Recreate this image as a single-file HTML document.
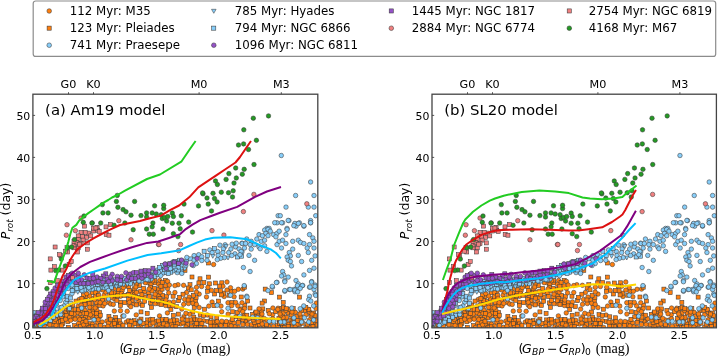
<!DOCTYPE html>
<html><head><meta charset="utf-8"><style>html,body{margin:0;padding:0;background:#fff;width:718px;height:357px;overflow:hidden}svg{display:block}</style></head>
<body>
<svg width="718" height="357" viewBox="0 0 718 357">
<rect width="718" height="357" fill="#fff"/>
<defs><clipPath id="c0"><rect x="32.9" y="94.2" width="284.9" height="233.6"/></clipPath><clipPath id="c1"><rect x="432.0" y="94.2" width="284.4" height="233.6"/></clipPath></defs>
<rect x="33.2" y="1" width="682.5" height="55.4" rx="2.5" fill="#fff" stroke="#8c8c8c" stroke-width="1.2"/>
<circle cx="49.2" cy="11.0" r="2.3" fill="#ff7f0e" stroke="#3a3a3a" stroke-width="0.55"/>
<text x="69.8" y="15.3" font-family="'DejaVu Sans', 'Liberation Sans', sans-serif" font-size="11.8" fill="#000">112 Myr: M35</text>
<rect x="47.1" y="26.1" width="4.1" height="4.1" fill="#ff7f0e" stroke="#3a3a3a" stroke-width="0.55"/>
<text x="69.8" y="32.4" font-family="'DejaVu Sans', 'Liberation Sans', sans-serif" font-size="11.8" fill="#000">123 Myr: Pleiades</text>
<circle cx="49.2" cy="45.2" r="2.3" fill="#87cefa" stroke="#3a3a3a" stroke-width="0.55"/>
<text x="69.8" y="49.0" font-family="'DejaVu Sans', 'Liberation Sans', sans-serif" font-size="11.8" fill="#000">741 Myr: Praesepe</text>
<path d="M211.5,9.3L216.1,9.3L213.8,13.3Z" fill="#87cefa" stroke="#3a3a3a" stroke-width="0.55"/>
<text x="234.7" y="15.3" font-family="'DejaVu Sans', 'Liberation Sans', sans-serif" font-size="11.8" fill="#000">785 Myr: Hyades</text>
<rect x="211.7" y="26.1" width="4.1" height="4.1" fill="#87cefa" stroke="#3a3a3a" stroke-width="0.55"/>
<text x="234.7" y="32.4" font-family="'DejaVu Sans', 'Liberation Sans', sans-serif" font-size="11.8" fill="#000">794 Myr: NGC 6866</text>
<circle cx="213.8" cy="45.2" r="2.3" fill="#9552c8" stroke="#3a3a3a" stroke-width="0.55"/>
<text x="234.7" y="49.0" font-family="'DejaVu Sans', 'Liberation Sans', sans-serif" font-size="11.8" fill="#000">1096 Myr: NGC 6811</text>
<rect x="389.2" y="8.9" width="4.1" height="4.1" fill="#9552c8" stroke="#3a3a3a" stroke-width="0.55"/>
<text x="411.7" y="15.3" font-family="'DejaVu Sans', 'Liberation Sans', sans-serif" font-size="11.8" fill="#000">1445 Myr: NGC 1817</text>
<circle cx="391.3" cy="28.2" r="2.3" fill="#f08080" stroke="#3a3a3a" stroke-width="0.55"/>
<text x="411.7" y="32.4" font-family="'DejaVu Sans', 'Liberation Sans', sans-serif" font-size="11.8" fill="#000">2884 Myr: NGC 6774</text>
<rect x="567.2" y="8.9" width="4.1" height="4.1" fill="#f08080" stroke="#3a3a3a" stroke-width="0.55"/>
<text x="588.7" y="15.3" font-family="'DejaVu Sans', 'Liberation Sans', sans-serif" font-size="11.8" fill="#000">2754 Myr: NGC 6819</text>
<circle cx="569.3" cy="28.2" r="2.3" fill="#249a24" stroke="#3a3a3a" stroke-width="0.55"/>
<text x="588.7" y="32.4" font-family="'DejaVu Sans', 'Liberation Sans', sans-serif" font-size="11.8" fill="#000">4168 Myr: M67</text>
<g clip-path="url(#c0)"><g transform="matrix(1.00000,0,0,1,0.000,0)">
<g id="scat"><circle cx="59.4" cy="315.2" r="2.25" fill="#ff7f0e" stroke="#3a3a3a" stroke-width="0.55"/><circle cx="79.1" cy="299.5" r="2.25" fill="#ff7f0e" stroke="#3a3a3a" stroke-width="0.55"/><circle cx="72.2" cy="310.0" r="2.25" fill="#ff7f0e" stroke="#3a3a3a" stroke-width="0.55"/><circle cx="70.4" cy="306.7" r="2.25" fill="#ff7f0e" stroke="#3a3a3a" stroke-width="0.55"/><rect x="64.0" y="308.4" width="4.0" height="4.0" fill="#ff7f0e" stroke="#3a3a3a" stroke-width="0.55"/><circle cx="65.5" cy="317.7" r="2.25" fill="#ff7f0e" stroke="#3a3a3a" stroke-width="0.55"/><rect x="51.4" y="316.9" width="4.0" height="4.0" fill="#ff7f0e" stroke="#3a3a3a" stroke-width="0.55"/><rect x="94.8" y="303.5" width="4.0" height="4.0" fill="#ff7f0e" stroke="#3a3a3a" stroke-width="0.55"/><rect x="89.5" y="296.7" width="4.0" height="4.0" fill="#ff7f0e" stroke="#3a3a3a" stroke-width="0.55"/><rect x="46.6" y="317.8" width="4.0" height="4.0" fill="#ff7f0e" stroke="#3a3a3a" stroke-width="0.55"/><circle cx="58.5" cy="318.7" r="2.25" fill="#ff7f0e" stroke="#3a3a3a" stroke-width="0.55"/><circle cx="78.3" cy="306.2" r="2.25" fill="#ff7f0e" stroke="#3a3a3a" stroke-width="0.55"/><rect x="70.8" y="303.0" width="4.0" height="4.0" fill="#ff7f0e" stroke="#3a3a3a" stroke-width="0.55"/><rect x="63.6" y="310.9" width="4.0" height="4.0" fill="#ff7f0e" stroke="#3a3a3a" stroke-width="0.55"/><rect x="73.1" y="307.6" width="4.0" height="4.0" fill="#ff7f0e" stroke="#3a3a3a" stroke-width="0.55"/><rect x="79.9" y="299.5" width="4.0" height="4.0" fill="#ff7f0e" stroke="#3a3a3a" stroke-width="0.55"/><rect x="90.5" y="308.7" width="4.0" height="4.0" fill="#ff7f0e" stroke="#3a3a3a" stroke-width="0.55"/><rect x="78.1" y="311.6" width="4.0" height="4.0" fill="#ff7f0e" stroke="#3a3a3a" stroke-width="0.55"/><circle cx="74.4" cy="316.9" r="2.25" fill="#ff7f0e" stroke="#3a3a3a" stroke-width="0.55"/><rect x="94.7" y="300.5" width="4.0" height="4.0" fill="#ff7f0e" stroke="#3a3a3a" stroke-width="0.55"/><rect x="80.1" y="308.6" width="4.0" height="4.0" fill="#ff7f0e" stroke="#3a3a3a" stroke-width="0.55"/><rect x="97.6" y="310.5" width="4.0" height="4.0" fill="#ff7f0e" stroke="#3a3a3a" stroke-width="0.55"/><circle cx="86.1" cy="296.9" r="2.25" fill="#ff7f0e" stroke="#3a3a3a" stroke-width="0.55"/><rect x="90.3" y="290.6" width="4.0" height="4.0" fill="#ff7f0e" stroke="#3a3a3a" stroke-width="0.55"/><rect x="91.0" y="311.1" width="4.0" height="4.0" fill="#ff7f0e" stroke="#3a3a3a" stroke-width="0.55"/><circle cx="93.1" cy="317.1" r="2.25" fill="#ff7f0e" stroke="#3a3a3a" stroke-width="0.55"/><circle cx="69.1" cy="314.3" r="2.25" fill="#ff7f0e" stroke="#3a3a3a" stroke-width="0.55"/><circle cx="55.8" cy="316.4" r="2.25" fill="#ff7f0e" stroke="#3a3a3a" stroke-width="0.55"/><circle cx="81.4" cy="307.8" r="2.25" fill="#ff7f0e" stroke="#3a3a3a" stroke-width="0.55"/><circle cx="77.1" cy="312.7" r="2.25" fill="#ff7f0e" stroke="#3a3a3a" stroke-width="0.55"/><circle cx="63.5" cy="314.8" r="2.25" fill="#ff7f0e" stroke="#3a3a3a" stroke-width="0.55"/><circle cx="92.5" cy="307.5" r="2.25" fill="#ff7f0e" stroke="#3a3a3a" stroke-width="0.55"/><circle cx="89.7" cy="296.0" r="2.25" fill="#ff7f0e" stroke="#3a3a3a" stroke-width="0.55"/><rect x="69.7" y="316.7" width="4.0" height="4.0" fill="#ff7f0e" stroke="#3a3a3a" stroke-width="0.55"/><rect x="69.9" y="313.9" width="4.0" height="4.0" fill="#ff7f0e" stroke="#3a3a3a" stroke-width="0.55"/><rect x="86.7" y="316.0" width="4.0" height="4.0" fill="#ff7f0e" stroke="#3a3a3a" stroke-width="0.55"/><circle cx="89.1" cy="311.5" r="2.25" fill="#ff7f0e" stroke="#3a3a3a" stroke-width="0.55"/><circle cx="61.3" cy="313.5" r="2.25" fill="#ff7f0e" stroke="#3a3a3a" stroke-width="0.55"/><circle cx="81.6" cy="317.7" r="2.25" fill="#ff7f0e" stroke="#3a3a3a" stroke-width="0.55"/><rect x="97.3" y="314.6" width="4.0" height="4.0" fill="#ff7f0e" stroke="#3a3a3a" stroke-width="0.55"/><rect x="66.7" y="307.7" width="4.0" height="4.0" fill="#ff7f0e" stroke="#3a3a3a" stroke-width="0.55"/><rect x="85.3" y="299.4" width="4.0" height="4.0" fill="#ff7f0e" stroke="#3a3a3a" stroke-width="0.55"/><circle cx="96.8" cy="309.9" r="2.25" fill="#ff7f0e" stroke="#3a3a3a" stroke-width="0.55"/><circle cx="94.6" cy="299.6" r="2.25" fill="#ff7f0e" stroke="#3a3a3a" stroke-width="0.55"/><rect x="83.6" y="314.3" width="4.0" height="4.0" fill="#ff7f0e" stroke="#3a3a3a" stroke-width="0.55"/><rect x="64.6" y="313.4" width="4.0" height="4.0" fill="#ff7f0e" stroke="#3a3a3a" stroke-width="0.55"/><rect x="94.6" y="311.4" width="4.0" height="4.0" fill="#ff7f0e" stroke="#3a3a3a" stroke-width="0.55"/><rect x="81.3" y="293.6" width="4.0" height="4.0" fill="#ff7f0e" stroke="#3a3a3a" stroke-width="0.55"/><circle cx="98.3" cy="290.9" r="2.25" fill="#ff7f0e" stroke="#3a3a3a" stroke-width="0.55"/><circle cx="74.2" cy="314.1" r="2.25" fill="#ff7f0e" stroke="#3a3a3a" stroke-width="0.55"/><rect x="89.7" y="301.2" width="4.0" height="4.0" fill="#ff7f0e" stroke="#3a3a3a" stroke-width="0.55"/><rect x="93.6" y="294.8" width="4.0" height="4.0" fill="#ff7f0e" stroke="#3a3a3a" stroke-width="0.55"/><rect x="82.0" y="305.9" width="4.0" height="4.0" fill="#ff7f0e" stroke="#3a3a3a" stroke-width="0.55"/><rect x="87.1" y="301.4" width="4.0" height="4.0" fill="#ff7f0e" stroke="#3a3a3a" stroke-width="0.55"/><circle cx="69.7" cy="317.1" r="2.25" fill="#ff7f0e" stroke="#3a3a3a" stroke-width="0.55"/><rect x="82.4" y="298.7" width="4.0" height="4.0" fill="#ff7f0e" stroke="#3a3a3a" stroke-width="0.55"/><circle cx="90.5" cy="314.8" r="2.25" fill="#ff7f0e" stroke="#3a3a3a" stroke-width="0.55"/><circle cx="85.0" cy="310.2" r="2.25" fill="#ff7f0e" stroke="#3a3a3a" stroke-width="0.55"/><circle cx="89.6" cy="307.3" r="2.25" fill="#ff7f0e" stroke="#3a3a3a" stroke-width="0.55"/><rect x="97.9" y="303.3" width="4.0" height="4.0" fill="#ff7f0e" stroke="#3a3a3a" stroke-width="0.55"/><circle cx="95.6" cy="292.7" r="2.25" fill="#ff7f0e" stroke="#3a3a3a" stroke-width="0.55"/><rect x="96.6" y="293.5" width="4.0" height="4.0" fill="#ff7f0e" stroke="#3a3a3a" stroke-width="0.55"/><rect x="83.0" y="302.3" width="4.0" height="4.0" fill="#ff7f0e" stroke="#3a3a3a" stroke-width="0.55"/><circle cx="95.2" cy="307.9" r="2.25" fill="#ff7f0e" stroke="#3a3a3a" stroke-width="0.55"/><rect x="79.9" y="296.5" width="4.0" height="4.0" fill="#ff7f0e" stroke="#3a3a3a" stroke-width="0.55"/><rect x="69.4" y="311.3" width="4.0" height="4.0" fill="#ff7f0e" stroke="#3a3a3a" stroke-width="0.55"/><rect x="74.0" y="299.1" width="4.0" height="4.0" fill="#ff7f0e" stroke="#3a3a3a" stroke-width="0.55"/><rect x="59.4" y="316.3" width="4.0" height="4.0" fill="#ff7f0e" stroke="#3a3a3a" stroke-width="0.55"/><circle cx="78.0" cy="317.7" r="2.25" fill="#ff7f0e" stroke="#3a3a3a" stroke-width="0.55"/><circle cx="96.6" cy="317.4" r="2.25" fill="#ff7f0e" stroke="#3a3a3a" stroke-width="0.55"/><circle cx="84.0" cy="313.3" r="2.25" fill="#ff7f0e" stroke="#3a3a3a" stroke-width="0.55"/><circle cx="55.9" cy="319.6" r="2.25" fill="#ff7f0e" stroke="#3a3a3a" stroke-width="0.55"/><rect x="76.7" y="307.8" width="4.0" height="4.0" fill="#ff7f0e" stroke="#3a3a3a" stroke-width="0.55"/><circle cx="86.7" cy="293.6" r="2.25" fill="#ff7f0e" stroke="#3a3a3a" stroke-width="0.55"/><rect x="96.6" y="285.7" width="4.0" height="4.0" fill="#ff7f0e" stroke="#3a3a3a" stroke-width="0.55"/><circle cx="81.1" cy="305.2" r="2.25" fill="#ff7f0e" stroke="#3a3a3a" stroke-width="0.55"/><circle cx="99.1" cy="298.3" r="2.25" fill="#ff7f0e" stroke="#3a3a3a" stroke-width="0.55"/><rect x="84.6" y="311.7" width="4.0" height="4.0" fill="#ff7f0e" stroke="#3a3a3a" stroke-width="0.55"/><rect x="142.4" y="289.9" width="4.0" height="4.0" fill="#ff7f0e" stroke="#3a3a3a" stroke-width="0.55"/><rect x="137.3" y="283.7" width="4.0" height="4.0" fill="#ff7f0e" stroke="#3a3a3a" stroke-width="0.55"/><circle cx="167.5" cy="288.5" r="2.25" fill="#ff7f0e" stroke="#3a3a3a" stroke-width="0.55"/><rect x="142.7" y="299.2" width="4.0" height="4.0" fill="#ff7f0e" stroke="#3a3a3a" stroke-width="0.55"/><rect x="155.1" y="289.6" width="4.0" height="4.0" fill="#ff7f0e" stroke="#3a3a3a" stroke-width="0.55"/><circle cx="120.6" cy="296.2" r="2.25" fill="#ff7f0e" stroke="#3a3a3a" stroke-width="0.55"/><circle cx="108.8" cy="302.6" r="2.25" fill="#ff7f0e" stroke="#3a3a3a" stroke-width="0.55"/><rect x="122.8" y="300.7" width="4.0" height="4.0" fill="#ff7f0e" stroke="#3a3a3a" stroke-width="0.55"/><rect x="116.7" y="290.6" width="4.0" height="4.0" fill="#ff7f0e" stroke="#3a3a3a" stroke-width="0.55"/><circle cx="113.0" cy="285.2" r="2.25" fill="#ff7f0e" stroke="#3a3a3a" stroke-width="0.55"/><rect x="148.5" y="284.7" width="4.0" height="4.0" fill="#ff7f0e" stroke="#3a3a3a" stroke-width="0.55"/><rect x="131.5" y="289.8" width="4.0" height="4.0" fill="#ff7f0e" stroke="#3a3a3a" stroke-width="0.55"/><rect x="142.6" y="295.0" width="4.0" height="4.0" fill="#ff7f0e" stroke="#3a3a3a" stroke-width="0.55"/><circle cx="159.8" cy="280.5" r="2.25" fill="#ff7f0e" stroke="#3a3a3a" stroke-width="0.55"/><circle cx="158.0" cy="303.5" r="2.25" fill="#ff7f0e" stroke="#3a3a3a" stroke-width="0.55"/><rect x="152.9" y="280.8" width="4.0" height="4.0" fill="#ff7f0e" stroke="#3a3a3a" stroke-width="0.55"/><circle cx="158.2" cy="296.1" r="2.25" fill="#ff7f0e" stroke="#3a3a3a" stroke-width="0.55"/><rect x="99.0" y="284.1" width="4.0" height="4.0" fill="#ff7f0e" stroke="#3a3a3a" stroke-width="0.55"/><rect x="164.6" y="294.7" width="4.0" height="4.0" fill="#ff7f0e" stroke="#3a3a3a" stroke-width="0.55"/><circle cx="117.5" cy="286.9" r="2.25" fill="#ff7f0e" stroke="#3a3a3a" stroke-width="0.55"/><rect x="108.0" y="288.2" width="4.0" height="4.0" fill="#ff7f0e" stroke="#3a3a3a" stroke-width="0.55"/><rect x="152.3" y="286.4" width="4.0" height="4.0" fill="#ff7f0e" stroke="#3a3a3a" stroke-width="0.55"/><circle cx="110.7" cy="304.0" r="2.25" fill="#ff7f0e" stroke="#3a3a3a" stroke-width="0.55"/><rect x="160.4" y="293.4" width="4.0" height="4.0" fill="#ff7f0e" stroke="#3a3a3a" stroke-width="0.55"/><rect x="152.7" y="295.0" width="4.0" height="4.0" fill="#ff7f0e" stroke="#3a3a3a" stroke-width="0.55"/><rect x="160.5" y="298.3" width="4.0" height="4.0" fill="#ff7f0e" stroke="#3a3a3a" stroke-width="0.55"/><circle cx="158.7" cy="284.3" r="2.25" fill="#ff7f0e" stroke="#3a3a3a" stroke-width="0.55"/><circle cx="148.5" cy="293.5" r="2.25" fill="#ff7f0e" stroke="#3a3a3a" stroke-width="0.55"/><circle cx="151.9" cy="290.9" r="2.25" fill="#ff7f0e" stroke="#3a3a3a" stroke-width="0.55"/><rect x="116.5" y="287.6" width="4.0" height="4.0" fill="#ff7f0e" stroke="#3a3a3a" stroke-width="0.55"/><rect x="107.7" y="293.5" width="4.0" height="4.0" fill="#ff7f0e" stroke="#3a3a3a" stroke-width="0.55"/><circle cx="104.1" cy="295.2" r="2.25" fill="#ff7f0e" stroke="#3a3a3a" stroke-width="0.55"/><rect x="132.8" y="292.3" width="4.0" height="4.0" fill="#ff7f0e" stroke="#3a3a3a" stroke-width="0.55"/><rect x="137.4" y="295.2" width="4.0" height="4.0" fill="#ff7f0e" stroke="#3a3a3a" stroke-width="0.55"/><rect x="156.8" y="287.1" width="4.0" height="4.0" fill="#ff7f0e" stroke="#3a3a3a" stroke-width="0.55"/><circle cx="129.3" cy="305.1" r="2.25" fill="#ff7f0e" stroke="#3a3a3a" stroke-width="0.55"/><circle cx="105.3" cy="298.6" r="2.25" fill="#ff7f0e" stroke="#3a3a3a" stroke-width="0.55"/><rect x="142.5" y="278.3" width="4.0" height="4.0" fill="#ff7f0e" stroke="#3a3a3a" stroke-width="0.55"/><circle cx="168.7" cy="292.8" r="2.25" fill="#ff7f0e" stroke="#3a3a3a" stroke-width="0.55"/><circle cx="133.9" cy="303.4" r="2.25" fill="#ff7f0e" stroke="#3a3a3a" stroke-width="0.55"/><rect x="100.3" y="298.3" width="4.0" height="4.0" fill="#ff7f0e" stroke="#3a3a3a" stroke-width="0.55"/><rect x="141.7" y="286.5" width="4.0" height="4.0" fill="#ff7f0e" stroke="#3a3a3a" stroke-width="0.55"/><circle cx="130.5" cy="292.6" r="2.25" fill="#ff7f0e" stroke="#3a3a3a" stroke-width="0.55"/><circle cx="138.8" cy="301.5" r="2.25" fill="#ff7f0e" stroke="#3a3a3a" stroke-width="0.55"/><rect x="118.5" y="300.2" width="4.0" height="4.0" fill="#ff7f0e" stroke="#3a3a3a" stroke-width="0.55"/><rect x="126.2" y="292.7" width="4.0" height="4.0" fill="#ff7f0e" stroke="#3a3a3a" stroke-width="0.55"/><circle cx="122.2" cy="290.7" r="2.25" fill="#ff7f0e" stroke="#3a3a3a" stroke-width="0.55"/><rect x="152.9" y="278.1" width="4.0" height="4.0" fill="#ff7f0e" stroke="#3a3a3a" stroke-width="0.55"/><rect x="148.6" y="300.9" width="4.0" height="4.0" fill="#ff7f0e" stroke="#3a3a3a" stroke-width="0.55"/><circle cx="138.2" cy="281.2" r="2.25" fill="#ff7f0e" stroke="#3a3a3a" stroke-width="0.55"/><circle cx="121.0" cy="284.4" r="2.25" fill="#ff7f0e" stroke="#3a3a3a" stroke-width="0.55"/><circle cx="113.3" cy="304.4" r="2.25" fill="#ff7f0e" stroke="#3a3a3a" stroke-width="0.55"/><circle cx="155.2" cy="303.6" r="2.25" fill="#ff7f0e" stroke="#3a3a3a" stroke-width="0.55"/><rect x="112.9" y="297.0" width="4.0" height="4.0" fill="#ff7f0e" stroke="#3a3a3a" stroke-width="0.55"/><rect x="130.0" y="298.3" width="4.0" height="4.0" fill="#ff7f0e" stroke="#3a3a3a" stroke-width="0.55"/><circle cx="107.1" cy="289.3" r="2.25" fill="#ff7f0e" stroke="#3a3a3a" stroke-width="0.55"/><circle cx="155.1" cy="294.2" r="2.25" fill="#ff7f0e" stroke="#3a3a3a" stroke-width="0.55"/><rect x="127.5" y="288.3" width="4.0" height="4.0" fill="#ff7f0e" stroke="#3a3a3a" stroke-width="0.55"/><rect x="128.1" y="295.7" width="4.0" height="4.0" fill="#ff7f0e" stroke="#3a3a3a" stroke-width="0.55"/><rect x="163.3" y="278.4" width="4.0" height="4.0" fill="#ff7f0e" stroke="#3a3a3a" stroke-width="0.55"/><circle cx="140.3" cy="303.9" r="2.25" fill="#ff7f0e" stroke="#3a3a3a" stroke-width="0.55"/><rect x="129.2" y="280.7" width="4.0" height="4.0" fill="#ff7f0e" stroke="#3a3a3a" stroke-width="0.55"/><circle cx="165.6" cy="305.5" r="2.25" fill="#ff7f0e" stroke="#3a3a3a" stroke-width="0.55"/><circle cx="114.9" cy="288.2" r="2.25" fill="#ff7f0e" stroke="#3a3a3a" stroke-width="0.55"/><circle cx="147.9" cy="282.6" r="2.25" fill="#ff7f0e" stroke="#3a3a3a" stroke-width="0.55"/><circle cx="167.6" cy="281.4" r="2.25" fill="#ff7f0e" stroke="#3a3a3a" stroke-width="0.55"/><rect x="114.9" y="298.3" width="4.0" height="4.0" fill="#ff7f0e" stroke="#3a3a3a" stroke-width="0.55"/><rect x="157.9" y="296.7" width="4.0" height="4.0" fill="#ff7f0e" stroke="#3a3a3a" stroke-width="0.55"/><rect x="163.2" y="283.8" width="4.0" height="4.0" fill="#ff7f0e" stroke="#3a3a3a" stroke-width="0.55"/><circle cx="105.6" cy="292.0" r="2.25" fill="#ff7f0e" stroke="#3a3a3a" stroke-width="0.55"/><rect x="149.0" y="281.6" width="4.0" height="4.0" fill="#ff7f0e" stroke="#3a3a3a" stroke-width="0.55"/><circle cx="160.3" cy="292.1" r="2.25" fill="#ff7f0e" stroke="#3a3a3a" stroke-width="0.55"/><circle cx="140.2" cy="291.3" r="2.25" fill="#ff7f0e" stroke="#3a3a3a" stroke-width="0.55"/><rect x="140.4" y="303.4" width="4.0" height="4.0" fill="#ff7f0e" stroke="#3a3a3a" stroke-width="0.55"/><circle cx="121.6" cy="293.5" r="2.25" fill="#ff7f0e" stroke="#3a3a3a" stroke-width="0.55"/><rect x="160.1" y="287.1" width="4.0" height="4.0" fill="#ff7f0e" stroke="#3a3a3a" stroke-width="0.55"/><rect x="156.3" y="298.9" width="4.0" height="4.0" fill="#ff7f0e" stroke="#3a3a3a" stroke-width="0.55"/><rect x="150.6" y="298.4" width="4.0" height="4.0" fill="#ff7f0e" stroke="#3a3a3a" stroke-width="0.55"/><circle cx="162.8" cy="302.9" r="2.25" fill="#ff7f0e" stroke="#3a3a3a" stroke-width="0.55"/><circle cx="136.5" cy="292.4" r="2.25" fill="#ff7f0e" stroke="#3a3a3a" stroke-width="0.55"/><circle cx="149.1" cy="289.0" r="2.25" fill="#ff7f0e" stroke="#3a3a3a" stroke-width="0.55"/><rect x="134.2" y="281.8" width="4.0" height="4.0" fill="#ff7f0e" stroke="#3a3a3a" stroke-width="0.55"/><circle cx="103.1" cy="305.9" r="2.25" fill="#ff7f0e" stroke="#3a3a3a" stroke-width="0.55"/><circle cx="126.2" cy="285.9" r="2.25" fill="#ff7f0e" stroke="#3a3a3a" stroke-width="0.55"/><circle cx="110.9" cy="297.7" r="2.25" fill="#ff7f0e" stroke="#3a3a3a" stroke-width="0.55"/><rect x="122.1" y="293.3" width="4.0" height="4.0" fill="#ff7f0e" stroke="#3a3a3a" stroke-width="0.55"/><circle cx="169.3" cy="302.4" r="2.25" fill="#ff7f0e" stroke="#3a3a3a" stroke-width="0.55"/><circle cx="102.7" cy="289.9" r="2.25" fill="#ff7f0e" stroke="#3a3a3a" stroke-width="0.55"/><circle cx="169.4" cy="285.0" r="2.25" fill="#ff7f0e" stroke="#3a3a3a" stroke-width="0.55"/><rect x="147.6" y="294.5" width="4.0" height="4.0" fill="#ff7f0e" stroke="#3a3a3a" stroke-width="0.55"/><rect x="163.4" y="300.4" width="4.0" height="4.0" fill="#ff7f0e" stroke="#3a3a3a" stroke-width="0.55"/><rect x="160.2" y="280.7" width="4.0" height="4.0" fill="#ff7f0e" stroke="#3a3a3a" stroke-width="0.55"/><rect x="131.4" y="294.8" width="4.0" height="4.0" fill="#ff7f0e" stroke="#3a3a3a" stroke-width="0.55"/><rect x="158.9" y="284.2" width="4.0" height="4.0" fill="#ff7f0e" stroke="#3a3a3a" stroke-width="0.55"/><rect x="126.8" y="284.7" width="4.0" height="4.0" fill="#ff7f0e" stroke="#3a3a3a" stroke-width="0.55"/><circle cx="123.4" cy="287.6" r="2.25" fill="#ff7f0e" stroke="#3a3a3a" stroke-width="0.55"/><rect x="132.3" y="286.8" width="4.0" height="4.0" fill="#ff7f0e" stroke="#3a3a3a" stroke-width="0.55"/><circle cx="114.8" cy="295.1" r="2.25" fill="#ff7f0e" stroke="#3a3a3a" stroke-width="0.55"/><circle cx="114.1" cy="292.7" r="2.25" fill="#ff7f0e" stroke="#3a3a3a" stroke-width="0.55"/><rect x="167.3" y="303.9" width="4.0" height="4.0" fill="#ff7f0e" stroke="#3a3a3a" stroke-width="0.55"/><rect x="118.5" y="303.5" width="4.0" height="4.0" fill="#ff7f0e" stroke="#3a3a3a" stroke-width="0.55"/><circle cx="100.1" cy="302.6" r="2.25" fill="#ff7f0e" stroke="#3a3a3a" stroke-width="0.55"/><rect x="126.5" y="297.6" width="4.0" height="4.0" fill="#ff7f0e" stroke="#3a3a3a" stroke-width="0.55"/><rect x="109.4" y="290.9" width="4.0" height="4.0" fill="#ff7f0e" stroke="#3a3a3a" stroke-width="0.55"/><rect x="139.6" y="277.8" width="4.0" height="4.0" fill="#ff7f0e" stroke="#3a3a3a" stroke-width="0.55"/><circle cx="152.6" cy="280.8" r="2.25" fill="#ff7f0e" stroke="#3a3a3a" stroke-width="0.55"/><rect x="159.1" y="302.7" width="4.0" height="4.0" fill="#ff7f0e" stroke="#3a3a3a" stroke-width="0.55"/><rect x="139.9" y="292.8" width="4.0" height="4.0" fill="#ff7f0e" stroke="#3a3a3a" stroke-width="0.55"/><rect x="134.6" y="296.2" width="4.0" height="4.0" fill="#ff7f0e" stroke="#3a3a3a" stroke-width="0.55"/><circle cx="150.2" cy="280.5" r="2.25" fill="#ff7f0e" stroke="#3a3a3a" stroke-width="0.55"/><circle cx="129.4" cy="302.3" r="2.25" fill="#ff7f0e" stroke="#3a3a3a" stroke-width="0.55"/><circle cx="165.9" cy="300.0" r="2.25" fill="#ff7f0e" stroke="#3a3a3a" stroke-width="0.55"/><rect x="134.2" y="302.9" width="4.0" height="4.0" fill="#ff7f0e" stroke="#3a3a3a" stroke-width="0.55"/><rect x="133.3" y="278.8" width="4.0" height="4.0" fill="#ff7f0e" stroke="#3a3a3a" stroke-width="0.55"/><rect x="115.5" y="293.8" width="4.0" height="4.0" fill="#ff7f0e" stroke="#3a3a3a" stroke-width="0.55"/><circle cx="145.3" cy="282.7" r="2.25" fill="#ff7f0e" stroke="#3a3a3a" stroke-width="0.55"/><rect x="133.9" y="285.0" width="4.0" height="4.0" fill="#ff7f0e" stroke="#3a3a3a" stroke-width="0.55"/><circle cx="104.7" cy="303.4" r="2.25" fill="#ff7f0e" stroke="#3a3a3a" stroke-width="0.55"/><circle cx="130.8" cy="306.7" r="2.25" fill="#ff7f0e" stroke="#3a3a3a" stroke-width="0.55"/><circle cx="127.2" cy="311.3" r="2.25" fill="#ff7f0e" stroke="#3a3a3a" stroke-width="0.55"/><rect x="149.5" y="305.3" width="4.0" height="4.0" fill="#ff7f0e" stroke="#3a3a3a" stroke-width="0.55"/><rect x="113.7" y="315.5" width="4.0" height="4.0" fill="#ff7f0e" stroke="#3a3a3a" stroke-width="0.55"/><rect x="145.2" y="311.4" width="4.0" height="4.0" fill="#ff7f0e" stroke="#3a3a3a" stroke-width="0.55"/><circle cx="159.5" cy="315.9" r="2.25" fill="#ff7f0e" stroke="#3a3a3a" stroke-width="0.55"/><circle cx="136.2" cy="314.9" r="2.25" fill="#ff7f0e" stroke="#3a3a3a" stroke-width="0.55"/><rect x="106.9" y="314.4" width="4.0" height="4.0" fill="#ff7f0e" stroke="#3a3a3a" stroke-width="0.55"/><rect x="98.3" y="313.2" width="4.0" height="4.0" fill="#ff7f0e" stroke="#3a3a3a" stroke-width="0.55"/><rect x="139.0" y="309.9" width="4.0" height="4.0" fill="#ff7f0e" stroke="#3a3a3a" stroke-width="0.55"/><circle cx="167.4" cy="312.9" r="2.25" fill="#ff7f0e" stroke="#3a3a3a" stroke-width="0.55"/><circle cx="120.5" cy="310.7" r="2.25" fill="#ff7f0e" stroke="#3a3a3a" stroke-width="0.55"/><circle cx="122.7" cy="316.1" r="2.25" fill="#ff7f0e" stroke="#3a3a3a" stroke-width="0.55"/><circle cx="114.3" cy="311.1" r="2.25" fill="#ff7f0e" stroke="#3a3a3a" stroke-width="0.55"/><circle cx="238.3" cy="289.3" r="2.25" fill="#ff7f0e" stroke="#3a3a3a" stroke-width="0.55"/><circle cx="173.6" cy="301.9" r="2.25" fill="#ff7f0e" stroke="#3a3a3a" stroke-width="0.55"/><circle cx="207.3" cy="315.0" r="2.25" fill="#ff7f0e" stroke="#3a3a3a" stroke-width="0.55"/><circle cx="228.0" cy="302.7" r="2.25" fill="#ff7f0e" stroke="#3a3a3a" stroke-width="0.55"/><rect x="242.8" y="303.4" width="4.0" height="4.0" fill="#ff7f0e" stroke="#3a3a3a" stroke-width="0.55"/><circle cx="208.8" cy="306.1" r="2.25" fill="#ff7f0e" stroke="#3a3a3a" stroke-width="0.55"/><circle cx="199.2" cy="294.1" r="2.25" fill="#ff7f0e" stroke="#3a3a3a" stroke-width="0.55"/><rect x="212.6" y="292.0" width="4.0" height="4.0" fill="#ff7f0e" stroke="#3a3a3a" stroke-width="0.55"/><circle cx="241.1" cy="309.0" r="2.25" fill="#ff7f0e" stroke="#3a3a3a" stroke-width="0.55"/><rect x="207.4" y="281.8" width="4.0" height="4.0" fill="#ff7f0e" stroke="#3a3a3a" stroke-width="0.55"/><circle cx="212.1" cy="302.0" r="2.25" fill="#ff7f0e" stroke="#3a3a3a" stroke-width="0.55"/><rect x="234.0" y="314.9" width="4.0" height="4.0" fill="#ff7f0e" stroke="#3a3a3a" stroke-width="0.55"/><circle cx="206.5" cy="296.9" r="2.25" fill="#ff7f0e" stroke="#3a3a3a" stroke-width="0.55"/><rect x="214.8" y="315.8" width="4.0" height="4.0" fill="#ff7f0e" stroke="#3a3a3a" stroke-width="0.55"/><rect x="193.7" y="298.6" width="4.0" height="4.0" fill="#ff7f0e" stroke="#3a3a3a" stroke-width="0.55"/><rect x="229.2" y="289.4" width="4.0" height="4.0" fill="#ff7f0e" stroke="#3a3a3a" stroke-width="0.55"/><rect x="191.8" y="315.2" width="4.0" height="4.0" fill="#ff7f0e" stroke="#3a3a3a" stroke-width="0.55"/><rect x="229.9" y="300.5" width="4.0" height="4.0" fill="#ff7f0e" stroke="#3a3a3a" stroke-width="0.55"/><rect x="176.3" y="312.1" width="4.0" height="4.0" fill="#ff7f0e" stroke="#3a3a3a" stroke-width="0.55"/><circle cx="221.7" cy="311.7" r="2.25" fill="#ff7f0e" stroke="#3a3a3a" stroke-width="0.55"/><circle cx="244.3" cy="315.1" r="2.25" fill="#ff7f0e" stroke="#3a3a3a" stroke-width="0.55"/><circle cx="201.6" cy="286.5" r="2.25" fill="#ff7f0e" stroke="#3a3a3a" stroke-width="0.55"/><circle cx="191.7" cy="299.9" r="2.25" fill="#ff7f0e" stroke="#3a3a3a" stroke-width="0.55"/><circle cx="207.9" cy="287.3" r="2.25" fill="#ff7f0e" stroke="#3a3a3a" stroke-width="0.55"/><circle cx="183.7" cy="304.3" r="2.25" fill="#ff7f0e" stroke="#3a3a3a" stroke-width="0.55"/><circle cx="244.5" cy="308.5" r="2.25" fill="#ff7f0e" stroke="#3a3a3a" stroke-width="0.55"/><rect x="171.1" y="294.2" width="4.0" height="4.0" fill="#ff7f0e" stroke="#3a3a3a" stroke-width="0.55"/><rect x="227.0" y="293.2" width="4.0" height="4.0" fill="#ff7f0e" stroke="#3a3a3a" stroke-width="0.55"/><rect x="219.8" y="280.8" width="4.0" height="4.0" fill="#ff7f0e" stroke="#3a3a3a" stroke-width="0.55"/><rect x="190.8" y="310.1" width="4.0" height="4.0" fill="#ff7f0e" stroke="#3a3a3a" stroke-width="0.55"/><rect x="211.9" y="303.7" width="4.0" height="4.0" fill="#ff7f0e" stroke="#3a3a3a" stroke-width="0.55"/><circle cx="184.7" cy="299.4" r="2.25" fill="#ff7f0e" stroke="#3a3a3a" stroke-width="0.55"/><circle cx="211.5" cy="290.4" r="2.25" fill="#ff7f0e" stroke="#3a3a3a" stroke-width="0.55"/><rect x="216.5" y="299.1" width="4.0" height="4.0" fill="#ff7f0e" stroke="#3a3a3a" stroke-width="0.55"/><circle cx="181.8" cy="309.1" r="2.25" fill="#ff7f0e" stroke="#3a3a3a" stroke-width="0.55"/><circle cx="178.0" cy="284.7" r="2.25" fill="#ff7f0e" stroke="#3a3a3a" stroke-width="0.55"/><circle cx="231.7" cy="305.7" r="2.25" fill="#ff7f0e" stroke="#3a3a3a" stroke-width="0.55"/><circle cx="230.5" cy="287.7" r="2.25" fill="#ff7f0e" stroke="#3a3a3a" stroke-width="0.55"/><rect x="168.9" y="307.5" width="4.0" height="4.0" fill="#ff7f0e" stroke="#3a3a3a" stroke-width="0.55"/><rect x="192.2" y="305.4" width="4.0" height="4.0" fill="#ff7f0e" stroke="#3a3a3a" stroke-width="0.55"/><circle cx="196.5" cy="287.3" r="2.25" fill="#ff7f0e" stroke="#3a3a3a" stroke-width="0.55"/><rect x="188.0" y="282.7" width="4.0" height="4.0" fill="#ff7f0e" stroke="#3a3a3a" stroke-width="0.55"/><circle cx="237.8" cy="305.8" r="2.25" fill="#ff7f0e" stroke="#3a3a3a" stroke-width="0.55"/><rect x="194.1" y="295.6" width="4.0" height="4.0" fill="#ff7f0e" stroke="#3a3a3a" stroke-width="0.55"/><rect x="196.9" y="280.9" width="4.0" height="4.0" fill="#ff7f0e" stroke="#3a3a3a" stroke-width="0.55"/><circle cx="242.0" cy="302.7" r="2.25" fill="#ff7f0e" stroke="#3a3a3a" stroke-width="0.55"/><rect x="214.5" y="288.6" width="4.0" height="4.0" fill="#ff7f0e" stroke="#3a3a3a" stroke-width="0.55"/><rect x="171.3" y="313.4" width="4.0" height="4.0" fill="#ff7f0e" stroke="#3a3a3a" stroke-width="0.55"/><circle cx="234.1" cy="296.8" r="2.25" fill="#ff7f0e" stroke="#3a3a3a" stroke-width="0.55"/><rect x="235.4" y="310.6" width="4.0" height="4.0" fill="#ff7f0e" stroke="#3a3a3a" stroke-width="0.55"/><circle cx="192.8" cy="303.3" r="2.25" fill="#ff7f0e" stroke="#3a3a3a" stroke-width="0.55"/><rect x="239.2" y="295.0" width="4.0" height="4.0" fill="#ff7f0e" stroke="#3a3a3a" stroke-width="0.55"/><circle cx="199.2" cy="307.5" r="2.25" fill="#ff7f0e" stroke="#3a3a3a" stroke-width="0.55"/><circle cx="186.6" cy="292.4" r="2.25" fill="#ff7f0e" stroke="#3a3a3a" stroke-width="0.55"/><circle cx="235.6" cy="302.4" r="2.25" fill="#ff7f0e" stroke="#3a3a3a" stroke-width="0.55"/><rect x="181.0" y="292.2" width="4.0" height="4.0" fill="#ff7f0e" stroke="#3a3a3a" stroke-width="0.55"/><rect x="182.0" y="314.9" width="4.0" height="4.0" fill="#ff7f0e" stroke="#3a3a3a" stroke-width="0.55"/><rect x="176.6" y="298.7" width="4.0" height="4.0" fill="#ff7f0e" stroke="#3a3a3a" stroke-width="0.55"/><circle cx="174.9" cy="285.6" r="2.25" fill="#ff7f0e" stroke="#3a3a3a" stroke-width="0.55"/><rect x="186.3" y="286.0" width="4.0" height="4.0" fill="#ff7f0e" stroke="#3a3a3a" stroke-width="0.55"/><rect x="189.2" y="287.8" width="4.0" height="4.0" fill="#ff7f0e" stroke="#3a3a3a" stroke-width="0.55"/><circle cx="172.6" cy="305.6" r="2.25" fill="#ff7f0e" stroke="#3a3a3a" stroke-width="0.55"/><circle cx="222.9" cy="286.2" r="2.25" fill="#ff7f0e" stroke="#3a3a3a" stroke-width="0.55"/><rect x="177.6" y="295.4" width="4.0" height="4.0" fill="#ff7f0e" stroke="#3a3a3a" stroke-width="0.55"/><rect x="230.7" y="309.8" width="4.0" height="4.0" fill="#ff7f0e" stroke="#3a3a3a" stroke-width="0.55"/><circle cx="224.2" cy="296.5" r="2.25" fill="#ff7f0e" stroke="#3a3a3a" stroke-width="0.55"/><circle cx="189.6" cy="314.3" r="2.25" fill="#ff7f0e" stroke="#3a3a3a" stroke-width="0.55"/><circle cx="188.5" cy="303.5" r="2.25" fill="#ff7f0e" stroke="#3a3a3a" stroke-width="0.55"/><circle cx="185.9" cy="313.3" r="2.25" fill="#ff7f0e" stroke="#3a3a3a" stroke-width="0.55"/><rect x="191.3" y="293.4" width="4.0" height="4.0" fill="#ff7f0e" stroke="#3a3a3a" stroke-width="0.55"/><rect x="217.7" y="284.1" width="4.0" height="4.0" fill="#ff7f0e" stroke="#3a3a3a" stroke-width="0.55"/><rect x="205.5" y="289.4" width="4.0" height="4.0" fill="#ff7f0e" stroke="#3a3a3a" stroke-width="0.55"/><circle cx="174.9" cy="292.5" r="2.25" fill="#ff7f0e" stroke="#3a3a3a" stroke-width="0.55"/><rect x="221.7" y="291.1" width="4.0" height="4.0" fill="#ff7f0e" stroke="#3a3a3a" stroke-width="0.55"/><rect x="198.2" y="312.6" width="4.0" height="4.0" fill="#ff7f0e" stroke="#3a3a3a" stroke-width="0.55"/><circle cx="228.1" cy="314.1" r="2.25" fill="#ff7f0e" stroke="#3a3a3a" stroke-width="0.55"/><circle cx="234.6" cy="291.3" r="2.25" fill="#ff7f0e" stroke="#3a3a3a" stroke-width="0.55"/><circle cx="221.0" cy="306.1" r="2.25" fill="#ff7f0e" stroke="#3a3a3a" stroke-width="0.55"/><circle cx="196.4" cy="304.3" r="2.25" fill="#ff7f0e" stroke="#3a3a3a" stroke-width="0.55"/><circle cx="183.6" cy="285.3" r="2.25" fill="#ff7f0e" stroke="#3a3a3a" stroke-width="0.55"/><circle cx="189.1" cy="297.1" r="2.25" fill="#ff7f0e" stroke="#3a3a3a" stroke-width="0.55"/><rect x="219.3" y="292.9" width="4.0" height="4.0" fill="#ff7f0e" stroke="#3a3a3a" stroke-width="0.55"/><rect x="213.5" y="281.0" width="4.0" height="4.0" fill="#ff7f0e" stroke="#3a3a3a" stroke-width="0.55"/><rect x="174.4" y="304.7" width="4.0" height="4.0" fill="#ff7f0e" stroke="#3a3a3a" stroke-width="0.55"/><rect x="201.9" y="280.5" width="4.0" height="4.0" fill="#ff7f0e" stroke="#3a3a3a" stroke-width="0.55"/><rect x="209.0" y="314.8" width="4.0" height="4.0" fill="#ff7f0e" stroke="#3a3a3a" stroke-width="0.55"/><rect x="218.3" y="288.8" width="4.0" height="4.0" fill="#ff7f0e" stroke="#3a3a3a" stroke-width="0.55"/><rect x="186.1" y="298.0" width="4.0" height="4.0" fill="#ff7f0e" stroke="#3a3a3a" stroke-width="0.55"/><rect x="201.4" y="313.6" width="4.0" height="4.0" fill="#ff7f0e" stroke="#3a3a3a" stroke-width="0.55"/><circle cx="196.4" cy="292.1" r="2.25" fill="#ff7f0e" stroke="#3a3a3a" stroke-width="0.55"/><circle cx="227.0" cy="290.1" r="2.25" fill="#ff7f0e" stroke="#3a3a3a" stroke-width="0.55"/><rect x="202.6" y="307.2" width="4.0" height="4.0" fill="#ff7f0e" stroke="#3a3a3a" stroke-width="0.55"/><circle cx="213.6" cy="264.5" r="2.25" fill="#ff7f0e" stroke="#3a3a3a" stroke-width="0.55"/><rect x="206.6" y="261.0" width="4.0" height="4.0" fill="#ff7f0e" stroke="#3a3a3a" stroke-width="0.55"/><rect x="183.0" y="268.4" width="4.0" height="4.0" fill="#ff7f0e" stroke="#3a3a3a" stroke-width="0.55"/><rect x="198.0" y="276.8" width="4.0" height="4.0" fill="#ff7f0e" stroke="#3a3a3a" stroke-width="0.55"/><rect x="206.6" y="275.1" width="4.0" height="4.0" fill="#ff7f0e" stroke="#3a3a3a" stroke-width="0.55"/><circle cx="227.0" cy="282.0" r="2.25" fill="#ff7f0e" stroke="#3a3a3a" stroke-width="0.55"/><rect x="190.0" y="275.0" width="4.0" height="4.0" fill="#ff7f0e" stroke="#3a3a3a" stroke-width="0.55"/><circle cx="270.4" cy="320.0" r="2.25" fill="#ff7f0e" stroke="#3a3a3a" stroke-width="0.55"/><rect x="115.6" y="320.0" width="4.0" height="4.0" fill="#ff7f0e" stroke="#3a3a3a" stroke-width="0.55"/><circle cx="94.2" cy="319.5" r="2.25" fill="#ff7f0e" stroke="#3a3a3a" stroke-width="0.55"/><rect x="113.2" y="318.7" width="4.0" height="4.0" fill="#ff7f0e" stroke="#3a3a3a" stroke-width="0.55"/><circle cx="233.9" cy="322.8" r="2.25" fill="#ff7f0e" stroke="#3a3a3a" stroke-width="0.55"/><rect x="65.8" y="319.7" width="4.0" height="4.0" fill="#ff7f0e" stroke="#3a3a3a" stroke-width="0.55"/><circle cx="168.2" cy="322.1" r="2.25" fill="#ff7f0e" stroke="#3a3a3a" stroke-width="0.55"/><rect x="81.4" y="317.6" width="4.0" height="4.0" fill="#ff7f0e" stroke="#3a3a3a" stroke-width="0.55"/><circle cx="39.0" cy="327.4" r="2.25" fill="#ff7f0e" stroke="#3a3a3a" stroke-width="0.55"/><circle cx="247.6" cy="319.7" r="2.25" fill="#ff7f0e" stroke="#3a3a3a" stroke-width="0.55"/><circle cx="238.2" cy="327.3" r="2.25" fill="#ff7f0e" stroke="#3a3a3a" stroke-width="0.55"/><rect x="192.9" y="317.9" width="4.0" height="4.0" fill="#ff7f0e" stroke="#3a3a3a" stroke-width="0.55"/><rect x="171.8" y="320.7" width="4.0" height="4.0" fill="#ff7f0e" stroke="#3a3a3a" stroke-width="0.55"/><rect x="87.5" y="321.6" width="4.0" height="4.0" fill="#ff7f0e" stroke="#3a3a3a" stroke-width="0.55"/><circle cx="217.8" cy="324.3" r="2.25" fill="#ff7f0e" stroke="#3a3a3a" stroke-width="0.55"/><rect x="297.7" y="322.5" width="4.0" height="4.0" fill="#ff7f0e" stroke="#3a3a3a" stroke-width="0.55"/><circle cx="106.9" cy="321.1" r="2.25" fill="#ff7f0e" stroke="#3a3a3a" stroke-width="0.55"/><circle cx="75.1" cy="319.2" r="2.25" fill="#ff7f0e" stroke="#3a3a3a" stroke-width="0.55"/><circle cx="254.4" cy="326.1" r="2.25" fill="#ff7f0e" stroke="#3a3a3a" stroke-width="0.55"/><rect x="117.5" y="318.6" width="4.0" height="4.0" fill="#ff7f0e" stroke="#3a3a3a" stroke-width="0.55"/><rect x="213.9" y="324.2" width="4.0" height="4.0" fill="#ff7f0e" stroke="#3a3a3a" stroke-width="0.55"/><rect x="295.3" y="318.4" width="4.0" height="4.0" fill="#ff7f0e" stroke="#3a3a3a" stroke-width="0.55"/><circle cx="257.3" cy="326.1" r="2.25" fill="#ff7f0e" stroke="#3a3a3a" stroke-width="0.55"/><rect x="243.3" y="319.8" width="4.0" height="4.0" fill="#ff7f0e" stroke="#3a3a3a" stroke-width="0.55"/><circle cx="88.0" cy="326.0" r="2.25" fill="#ff7f0e" stroke="#3a3a3a" stroke-width="0.55"/><circle cx="126.3" cy="322.1" r="2.25" fill="#ff7f0e" stroke="#3a3a3a" stroke-width="0.55"/><rect x="189.4" y="320.1" width="4.0" height="4.0" fill="#ff7f0e" stroke="#3a3a3a" stroke-width="0.55"/><rect x="45.6" y="321.8" width="4.0" height="4.0" fill="#ff7f0e" stroke="#3a3a3a" stroke-width="0.55"/><rect x="211.1" y="323.9" width="4.0" height="4.0" fill="#ff7f0e" stroke="#3a3a3a" stroke-width="0.55"/><circle cx="235.0" cy="326.7" r="2.25" fill="#ff7f0e" stroke="#3a3a3a" stroke-width="0.55"/><rect x="300.4" y="321.2" width="4.0" height="4.0" fill="#ff7f0e" stroke="#3a3a3a" stroke-width="0.55"/><circle cx="176.9" cy="320.3" r="2.25" fill="#ff7f0e" stroke="#3a3a3a" stroke-width="0.55"/><rect x="118.5" y="321.9" width="4.0" height="4.0" fill="#ff7f0e" stroke="#3a3a3a" stroke-width="0.55"/><circle cx="58.6" cy="324.8" r="2.25" fill="#ff7f0e" stroke="#3a3a3a" stroke-width="0.55"/><rect x="80.1" y="320.7" width="4.0" height="4.0" fill="#ff7f0e" stroke="#3a3a3a" stroke-width="0.55"/><circle cx="309.5" cy="319.8" r="2.25" fill="#ff7f0e" stroke="#3a3a3a" stroke-width="0.55"/><rect x="34.8" y="324.1" width="4.0" height="4.0" fill="#ff7f0e" stroke="#3a3a3a" stroke-width="0.55"/><rect x="275.2" y="323.7" width="4.0" height="4.0" fill="#ff7f0e" stroke="#3a3a3a" stroke-width="0.55"/><rect x="154.0" y="319.4" width="4.0" height="4.0" fill="#ff7f0e" stroke="#3a3a3a" stroke-width="0.55"/><rect x="220.6" y="321.3" width="4.0" height="4.0" fill="#ff7f0e" stroke="#3a3a3a" stroke-width="0.55"/><rect x="157.7" y="322.6" width="4.0" height="4.0" fill="#ff7f0e" stroke="#3a3a3a" stroke-width="0.55"/><circle cx="269.0" cy="326.7" r="2.25" fill="#ff7f0e" stroke="#3a3a3a" stroke-width="0.55"/><rect x="132.1" y="318.6" width="4.0" height="4.0" fill="#ff7f0e" stroke="#3a3a3a" stroke-width="0.55"/><rect x="58.0" y="319.7" width="4.0" height="4.0" fill="#ff7f0e" stroke="#3a3a3a" stroke-width="0.55"/><circle cx="165.9" cy="327.3" r="2.25" fill="#ff7f0e" stroke="#3a3a3a" stroke-width="0.55"/><rect x="290.2" y="324.3" width="4.0" height="4.0" fill="#ff7f0e" stroke="#3a3a3a" stroke-width="0.55"/><rect x="308.7" y="325.2" width="4.0" height="4.0" fill="#ff7f0e" stroke="#3a3a3a" stroke-width="0.55"/><rect x="208.8" y="323.9" width="4.0" height="4.0" fill="#ff7f0e" stroke="#3a3a3a" stroke-width="0.55"/><rect x="50.9" y="322.7" width="4.0" height="4.0" fill="#ff7f0e" stroke="#3a3a3a" stroke-width="0.55"/><rect x="205.8" y="319.5" width="4.0" height="4.0" fill="#ff7f0e" stroke="#3a3a3a" stroke-width="0.55"/><circle cx="197.1" cy="327.1" r="2.25" fill="#ff7f0e" stroke="#3a3a3a" stroke-width="0.55"/><rect x="169.5" y="322.5" width="4.0" height="4.0" fill="#ff7f0e" stroke="#3a3a3a" stroke-width="0.55"/><circle cx="285.6" cy="319.2" r="2.25" fill="#ff7f0e" stroke="#3a3a3a" stroke-width="0.55"/><rect x="160.1" y="317.7" width="4.0" height="4.0" fill="#ff7f0e" stroke="#3a3a3a" stroke-width="0.55"/><circle cx="199.8" cy="322.5" r="2.25" fill="#ff7f0e" stroke="#3a3a3a" stroke-width="0.55"/><circle cx="185.5" cy="323.8" r="2.25" fill="#ff7f0e" stroke="#3a3a3a" stroke-width="0.55"/><rect x="145.7" y="317.9" width="4.0" height="4.0" fill="#ff7f0e" stroke="#3a3a3a" stroke-width="0.55"/><rect x="188.5" y="317.9" width="4.0" height="4.0" fill="#ff7f0e" stroke="#3a3a3a" stroke-width="0.55"/><rect x="277.1" y="319.1" width="4.0" height="4.0" fill="#ff7f0e" stroke="#3a3a3a" stroke-width="0.55"/><rect x="60.8" y="321.5" width="4.0" height="4.0" fill="#ff7f0e" stroke="#3a3a3a" stroke-width="0.55"/><rect x="195.5" y="317.9" width="4.0" height="4.0" fill="#ff7f0e" stroke="#3a3a3a" stroke-width="0.55"/><circle cx="180.7" cy="324.0" r="2.25" fill="#ff7f0e" stroke="#3a3a3a" stroke-width="0.55"/><rect x="54.7" y="320.7" width="4.0" height="4.0" fill="#ff7f0e" stroke="#3a3a3a" stroke-width="0.55"/><rect x="277.5" y="321.7" width="4.0" height="4.0" fill="#ff7f0e" stroke="#3a3a3a" stroke-width="0.55"/><rect x="66.3" y="325.4" width="4.0" height="4.0" fill="#ff7f0e" stroke="#3a3a3a" stroke-width="0.55"/><rect x="237.5" y="317.8" width="4.0" height="4.0" fill="#ff7f0e" stroke="#3a3a3a" stroke-width="0.55"/><rect x="268.1" y="320.3" width="4.0" height="4.0" fill="#ff7f0e" stroke="#3a3a3a" stroke-width="0.55"/><rect x="82.3" y="325.1" width="4.0" height="4.0" fill="#ff7f0e" stroke="#3a3a3a" stroke-width="0.55"/><rect x="192.8" y="323.6" width="4.0" height="4.0" fill="#ff7f0e" stroke="#3a3a3a" stroke-width="0.55"/><rect x="72.6" y="323.6" width="4.0" height="4.0" fill="#ff7f0e" stroke="#3a3a3a" stroke-width="0.55"/><rect x="50.2" y="319.0" width="4.0" height="4.0" fill="#ff7f0e" stroke="#3a3a3a" stroke-width="0.55"/><rect x="139.0" y="317.1" width="4.0" height="4.0" fill="#ff7f0e" stroke="#3a3a3a" stroke-width="0.55"/><circle cx="203.6" cy="320.8" r="2.25" fill="#ff7f0e" stroke="#3a3a3a" stroke-width="0.55"/><circle cx="156.1" cy="326.6" r="2.25" fill="#ff7f0e" stroke="#3a3a3a" stroke-width="0.55"/><rect x="279.5" y="318.4" width="4.0" height="4.0" fill="#ff7f0e" stroke="#3a3a3a" stroke-width="0.55"/><rect x="249.3" y="322.8" width="4.0" height="4.0" fill="#ff7f0e" stroke="#3a3a3a" stroke-width="0.55"/><circle cx="141.2" cy="325.3" r="2.25" fill="#ff7f0e" stroke="#3a3a3a" stroke-width="0.55"/><circle cx="262.5" cy="320.0" r="2.25" fill="#ff7f0e" stroke="#3a3a3a" stroke-width="0.55"/><circle cx="297.0" cy="324.7" r="2.25" fill="#ff7f0e" stroke="#3a3a3a" stroke-width="0.55"/><circle cx="162.0" cy="326.1" r="2.25" fill="#ff7f0e" stroke="#3a3a3a" stroke-width="0.55"/><circle cx="199.9" cy="320.0" r="2.25" fill="#ff7f0e" stroke="#3a3a3a" stroke-width="0.55"/><rect x="39.9" y="317.9" width="4.0" height="4.0" fill="#ff7f0e" stroke="#3a3a3a" stroke-width="0.55"/><circle cx="229.8" cy="322.2" r="2.25" fill="#ff7f0e" stroke="#3a3a3a" stroke-width="0.55"/><rect x="185.8" y="322.8" width="4.0" height="4.0" fill="#ff7f0e" stroke="#3a3a3a" stroke-width="0.55"/><rect x="261.9" y="325.0" width="4.0" height="4.0" fill="#ff7f0e" stroke="#3a3a3a" stroke-width="0.55"/><rect x="37.9" y="319.9" width="4.0" height="4.0" fill="#ff7f0e" stroke="#3a3a3a" stroke-width="0.55"/><circle cx="78.6" cy="323.3" r="2.25" fill="#ff7f0e" stroke="#3a3a3a" stroke-width="0.55"/><rect x="280.2" y="323.8" width="4.0" height="4.0" fill="#ff7f0e" stroke="#3a3a3a" stroke-width="0.55"/><rect x="44.0" y="318.5" width="4.0" height="4.0" fill="#ff7f0e" stroke="#3a3a3a" stroke-width="0.55"/><rect x="264.7" y="322.8" width="4.0" height="4.0" fill="#ff7f0e" stroke="#3a3a3a" stroke-width="0.55"/><circle cx="146.7" cy="323.0" r="2.25" fill="#ff7f0e" stroke="#3a3a3a" stroke-width="0.55"/><rect x="78.6" y="324.2" width="4.0" height="4.0" fill="#ff7f0e" stroke="#3a3a3a" stroke-width="0.55"/><circle cx="146.9" cy="326.4" r="2.25" fill="#ff7f0e" stroke="#3a3a3a" stroke-width="0.55"/><rect x="126.8" y="318.8" width="4.0" height="4.0" fill="#ff7f0e" stroke="#3a3a3a" stroke-width="0.55"/><rect x="286.1" y="322.0" width="4.0" height="4.0" fill="#ff7f0e" stroke="#3a3a3a" stroke-width="0.55"/><rect x="46.3" y="318.4" width="4.0" height="4.0" fill="#ff7f0e" stroke="#3a3a3a" stroke-width="0.55"/><rect x="135.8" y="321.0" width="4.0" height="4.0" fill="#ff7f0e" stroke="#3a3a3a" stroke-width="0.55"/><circle cx="314.2" cy="319.4" r="2.25" fill="#ff7f0e" stroke="#3a3a3a" stroke-width="0.55"/><rect x="110.9" y="319.3" width="4.0" height="4.0" fill="#ff7f0e" stroke="#3a3a3a" stroke-width="0.55"/><rect x="194.4" y="321.5" width="4.0" height="4.0" fill="#ff7f0e" stroke="#3a3a3a" stroke-width="0.55"/><circle cx="305.9" cy="327.4" r="2.25" fill="#ff7f0e" stroke="#3a3a3a" stroke-width="0.55"/><rect x="212.9" y="320.1" width="4.0" height="4.0" fill="#ff7f0e" stroke="#3a3a3a" stroke-width="0.55"/><rect x="113.4" y="323.7" width="4.0" height="4.0" fill="#ff7f0e" stroke="#3a3a3a" stroke-width="0.55"/><rect x="132.8" y="321.7" width="4.0" height="4.0" fill="#ff7f0e" stroke="#3a3a3a" stroke-width="0.55"/><circle cx="150.5" cy="319.5" r="2.25" fill="#ff7f0e" stroke="#3a3a3a" stroke-width="0.55"/><rect x="129.1" y="319.7" width="4.0" height="4.0" fill="#ff7f0e" stroke="#3a3a3a" stroke-width="0.55"/><rect x="312.7" y="321.1" width="4.0" height="4.0" fill="#ff7f0e" stroke="#3a3a3a" stroke-width="0.55"/><rect x="137.5" y="319.0" width="4.0" height="4.0" fill="#ff7f0e" stroke="#3a3a3a" stroke-width="0.55"/><circle cx="102.2" cy="322.0" r="2.25" fill="#ff7f0e" stroke="#3a3a3a" stroke-width="0.55"/><rect x="52.7" y="319.5" width="4.0" height="4.0" fill="#ff7f0e" stroke="#3a3a3a" stroke-width="0.55"/><rect x="121.0" y="323.2" width="4.0" height="4.0" fill="#ff7f0e" stroke="#3a3a3a" stroke-width="0.55"/><rect x="189.4" y="324.9" width="4.0" height="4.0" fill="#ff7f0e" stroke="#3a3a3a" stroke-width="0.55"/><circle cx="132.0" cy="326.8" r="2.25" fill="#ff7f0e" stroke="#3a3a3a" stroke-width="0.55"/><circle cx="86.4" cy="323.9" r="2.25" fill="#ff7f0e" stroke="#3a3a3a" stroke-width="0.55"/><rect x="252.4" y="320.6" width="4.0" height="4.0" fill="#ff7f0e" stroke="#3a3a3a" stroke-width="0.55"/><circle cx="172.6" cy="326.6" r="2.25" fill="#ff7f0e" stroke="#3a3a3a" stroke-width="0.55"/><circle cx="111.6" cy="325.0" r="2.25" fill="#ff7f0e" stroke="#3a3a3a" stroke-width="0.55"/><circle cx="97.6" cy="322.4" r="2.25" fill="#ff7f0e" stroke="#3a3a3a" stroke-width="0.55"/><circle cx="92.5" cy="324.1" r="2.25" fill="#ff7f0e" stroke="#3a3a3a" stroke-width="0.55"/><rect x="305.6" y="322.1" width="4.0" height="4.0" fill="#ff7f0e" stroke="#3a3a3a" stroke-width="0.55"/><circle cx="247.3" cy="324.5" r="2.25" fill="#ff7f0e" stroke="#3a3a3a" stroke-width="0.55"/><rect x="148.3" y="322.7" width="4.0" height="4.0" fill="#ff7f0e" stroke="#3a3a3a" stroke-width="0.55"/><rect x="150.8" y="317.4" width="4.0" height="4.0" fill="#ff7f0e" stroke="#3a3a3a" stroke-width="0.55"/><circle cx="212.6" cy="321.8" r="2.25" fill="#ff7f0e" stroke="#3a3a3a" stroke-width="0.55"/><circle cx="108.5" cy="322.9" r="2.25" fill="#ff7f0e" stroke="#3a3a3a" stroke-width="0.55"/><rect x="60.3" y="318.3" width="4.0" height="4.0" fill="#ff7f0e" stroke="#3a3a3a" stroke-width="0.55"/><rect x="59.3" y="323.9" width="4.0" height="4.0" fill="#ff7f0e" stroke="#3a3a3a" stroke-width="0.55"/><rect x="199.9" y="321.7" width="4.0" height="4.0" fill="#ff7f0e" stroke="#3a3a3a" stroke-width="0.55"/><rect x="127.3" y="323.3" width="4.0" height="4.0" fill="#ff7f0e" stroke="#3a3a3a" stroke-width="0.55"/><rect x="309.6" y="320.8" width="4.0" height="4.0" fill="#ff7f0e" stroke="#3a3a3a" stroke-width="0.55"/><rect x="112.4" y="321.4" width="4.0" height="4.0" fill="#ff7f0e" stroke="#3a3a3a" stroke-width="0.55"/><circle cx="301.3" cy="320.1" r="2.25" fill="#ff7f0e" stroke="#3a3a3a" stroke-width="0.55"/><circle cx="220.8" cy="325.6" r="2.25" fill="#ff7f0e" stroke="#3a3a3a" stroke-width="0.55"/><circle cx="138.2" cy="327.4" r="2.25" fill="#ff7f0e" stroke="#3a3a3a" stroke-width="0.55"/><rect x="98.3" y="323.4" width="4.0" height="4.0" fill="#ff7f0e" stroke="#3a3a3a" stroke-width="0.55"/><circle cx="177.5" cy="323.7" r="2.25" fill="#ff7f0e" stroke="#3a3a3a" stroke-width="0.55"/><rect x="42.2" y="323.6" width="4.0" height="4.0" fill="#ff7f0e" stroke="#3a3a3a" stroke-width="0.55"/><circle cx="104.4" cy="327.3" r="2.25" fill="#ff7f0e" stroke="#3a3a3a" stroke-width="0.55"/><rect x="163.7" y="319.7" width="4.0" height="4.0" fill="#ff7f0e" stroke="#3a3a3a" stroke-width="0.55"/><rect x="288.8" y="317.9" width="4.0" height="4.0" fill="#ff7f0e" stroke="#3a3a3a" stroke-width="0.55"/><rect x="240.8" y="317.5" width="4.0" height="4.0" fill="#ff7f0e" stroke="#3a3a3a" stroke-width="0.55"/><circle cx="295.2" cy="327.0" r="2.25" fill="#ff7f0e" stroke="#3a3a3a" stroke-width="0.55"/><rect x="156.3" y="318.9" width="4.0" height="4.0" fill="#ff7f0e" stroke="#3a3a3a" stroke-width="0.55"/><circle cx="217.2" cy="321.5" r="2.25" fill="#ff7f0e" stroke="#3a3a3a" stroke-width="0.55"/><circle cx="316.4" cy="320.8" r="2.25" fill="#ff7f0e" stroke="#3a3a3a" stroke-width="0.55"/><rect x="161.7" y="321.9" width="4.0" height="4.0" fill="#ff7f0e" stroke="#3a3a3a" stroke-width="0.55"/><circle cx="285.2" cy="322.1" r="2.25" fill="#ff7f0e" stroke="#3a3a3a" stroke-width="0.55"/><rect x="291.0" y="318.3" width="4.0" height="4.0" fill="#ff7f0e" stroke="#3a3a3a" stroke-width="0.55"/><circle cx="83.6" cy="324.8" r="2.25" fill="#ff7f0e" stroke="#3a3a3a" stroke-width="0.55"/><rect x="282.7" y="325.3" width="4.0" height="4.0" fill="#ff7f0e" stroke="#3a3a3a" stroke-width="0.55"/><rect x="257.4" y="322.8" width="4.0" height="4.0" fill="#ff7f0e" stroke="#3a3a3a" stroke-width="0.55"/><circle cx="65.6" cy="319.2" r="2.25" fill="#ff7f0e" stroke="#3a3a3a" stroke-width="0.55"/><rect x="171.4" y="318.1" width="4.0" height="4.0" fill="#ff7f0e" stroke="#3a3a3a" stroke-width="0.55"/><rect x="173.9" y="324.8" width="4.0" height="4.0" fill="#ff7f0e" stroke="#3a3a3a" stroke-width="0.55"/><rect x="84.0" y="319.2" width="4.0" height="4.0" fill="#ff7f0e" stroke="#3a3a3a" stroke-width="0.55"/><circle cx="55.4" cy="319.4" r="2.25" fill="#ff7f0e" stroke="#3a3a3a" stroke-width="0.55"/><rect x="37.0" y="322.8" width="4.0" height="4.0" fill="#ff7f0e" stroke="#3a3a3a" stroke-width="0.55"/><rect x="311.0" y="324.4" width="4.0" height="4.0" fill="#ff7f0e" stroke="#3a3a3a" stroke-width="0.55"/><rect x="236.4" y="320.4" width="4.0" height="4.0" fill="#ff7f0e" stroke="#3a3a3a" stroke-width="0.55"/><circle cx="76.3" cy="327.5" r="2.25" fill="#ff7f0e" stroke="#3a3a3a" stroke-width="0.55"/><rect x="47.9" y="322.9" width="4.0" height="4.0" fill="#ff7f0e" stroke="#3a3a3a" stroke-width="0.55"/><circle cx="292.3" cy="323.0" r="2.25" fill="#ff7f0e" stroke="#3a3a3a" stroke-width="0.55"/><rect x="168.4" y="318.9" width="4.0" height="4.0" fill="#ff7f0e" stroke="#3a3a3a" stroke-width="0.55"/><rect x="286.1" y="324.4" width="4.0" height="4.0" fill="#ff7f0e" stroke="#3a3a3a" stroke-width="0.55"/><circle cx="70.7" cy="320.3" r="2.25" fill="#ff7f0e" stroke="#3a3a3a" stroke-width="0.55"/><circle cx="183.0" cy="322.8" r="2.25" fill="#ff7f0e" stroke="#3a3a3a" stroke-width="0.55"/><rect x="315.1" y="322.9" width="4.0" height="4.0" fill="#ff7f0e" stroke="#3a3a3a" stroke-width="0.55"/><rect x="208.2" y="320.1" width="4.0" height="4.0" fill="#ff7f0e" stroke="#3a3a3a" stroke-width="0.55"/><rect x="88.0" y="325.2" width="4.0" height="4.0" fill="#ff7f0e" stroke="#3a3a3a" stroke-width="0.55"/><circle cx="56.0" cy="325.4" r="2.25" fill="#ff7f0e" stroke="#3a3a3a" stroke-width="0.55"/><rect x="141.0" y="321.4" width="4.0" height="4.0" fill="#ff7f0e" stroke="#3a3a3a" stroke-width="0.55"/><rect x="151.0" y="321.0" width="4.0" height="4.0" fill="#ff7f0e" stroke="#3a3a3a" stroke-width="0.55"/><rect x="251.1" y="318.0" width="4.0" height="4.0" fill="#ff7f0e" stroke="#3a3a3a" stroke-width="0.55"/><circle cx="98.2" cy="319.7" r="2.25" fill="#ff7f0e" stroke="#3a3a3a" stroke-width="0.55"/><circle cx="266.5" cy="319.9" r="2.25" fill="#ff7f0e" stroke="#3a3a3a" stroke-width="0.55"/><rect x="226.0" y="323.0" width="4.0" height="4.0" fill="#ff7f0e" stroke="#3a3a3a" stroke-width="0.55"/><rect x="198.6" y="325.5" width="4.0" height="4.0" fill="#ff7f0e" stroke="#3a3a3a" stroke-width="0.55"/><rect x="180.1" y="317.0" width="4.0" height="4.0" fill="#ff7f0e" stroke="#3a3a3a" stroke-width="0.55"/><circle cx="107.9" cy="326.3" r="2.25" fill="#ff7f0e" stroke="#3a3a3a" stroke-width="0.55"/><rect x="90.5" y="324.8" width="4.0" height="4.0" fill="#ff7f0e" stroke="#3a3a3a" stroke-width="0.55"/><rect x="258.5" y="319.5" width="4.0" height="4.0" fill="#ff7f0e" stroke="#3a3a3a" stroke-width="0.55"/><circle cx="226.3" cy="321.5" r="2.25" fill="#ff7f0e" stroke="#3a3a3a" stroke-width="0.55"/><circle cx="95.5" cy="326.1" r="2.25" fill="#ff7f0e" stroke="#3a3a3a" stroke-width="0.55"/><circle cx="221.8" cy="321.2" r="2.25" fill="#ff7f0e" stroke="#3a3a3a" stroke-width="0.55"/><circle cx="79.7" cy="319.5" r="2.25" fill="#ff7f0e" stroke="#3a3a3a" stroke-width="0.55"/><rect x="230.2" y="317.3" width="4.0" height="4.0" fill="#ff7f0e" stroke="#3a3a3a" stroke-width="0.55"/><circle cx="167.0" cy="325.2" r="2.25" fill="#ff7f0e" stroke="#3a3a3a" stroke-width="0.55"/><rect x="256.1" y="319.5" width="4.0" height="4.0" fill="#ff7f0e" stroke="#3a3a3a" stroke-width="0.55"/><rect x="164.1" y="317.3" width="4.0" height="4.0" fill="#ff7f0e" stroke="#3a3a3a" stroke-width="0.55"/><circle cx="273.5" cy="326.4" r="2.25" fill="#ff7f0e" stroke="#3a3a3a" stroke-width="0.55"/><rect x="185.1" y="318.0" width="4.0" height="4.0" fill="#ff7f0e" stroke="#3a3a3a" stroke-width="0.55"/><rect x="279.7" y="321.2" width="4.0" height="4.0" fill="#ff7f0e" stroke="#3a3a3a" stroke-width="0.55"/><rect x="108.5" y="317.2" width="4.0" height="4.0" fill="#ff7f0e" stroke="#3a3a3a" stroke-width="0.55"/><rect x="116.3" y="324.5" width="4.0" height="4.0" fill="#ff7f0e" stroke="#3a3a3a" stroke-width="0.55"/><circle cx="205.0" cy="327.4" r="2.25" fill="#ff7f0e" stroke="#3a3a3a" stroke-width="0.55"/><circle cx="231.1" cy="325.9" r="2.25" fill="#ff7f0e" stroke="#3a3a3a" stroke-width="0.55"/><rect x="240.9" y="322.7" width="4.0" height="4.0" fill="#ff7f0e" stroke="#3a3a3a" stroke-width="0.55"/><rect x="223.7" y="323.3" width="4.0" height="4.0" fill="#ff7f0e" stroke="#3a3a3a" stroke-width="0.55"/><circle cx="262.2" cy="324.0" r="2.25" fill="#ff7f0e" stroke="#3a3a3a" stroke-width="0.55"/><circle cx="185.9" cy="327.0" r="2.25" fill="#ff7f0e" stroke="#3a3a3a" stroke-width="0.55"/><circle cx="249.0" cy="318.7" r="2.25" fill="#ff7f0e" stroke="#3a3a3a" stroke-width="0.55"/><rect x="299.4" y="308.7" width="4.0" height="4.0" fill="#ff7f0e" stroke="#3a3a3a" stroke-width="0.55"/><rect x="303.4" y="308.5" width="4.0" height="4.0" fill="#ff7f0e" stroke="#3a3a3a" stroke-width="0.55"/><rect x="253.4" y="311.0" width="4.0" height="4.0" fill="#ff7f0e" stroke="#3a3a3a" stroke-width="0.55"/><circle cx="258.5" cy="313.4" r="2.25" fill="#ff7f0e" stroke="#3a3a3a" stroke-width="0.55"/><circle cx="310.8" cy="315.5" r="2.25" fill="#ff7f0e" stroke="#3a3a3a" stroke-width="0.55"/><circle cx="295.4" cy="312.3" r="2.25" fill="#ff7f0e" stroke="#3a3a3a" stroke-width="0.55"/><circle cx="301.1" cy="316.7" r="2.25" fill="#ff7f0e" stroke="#3a3a3a" stroke-width="0.55"/><circle cx="293.3" cy="318.4" r="2.25" fill="#ff7f0e" stroke="#3a3a3a" stroke-width="0.55"/><rect x="244.8" y="313.2" width="4.0" height="4.0" fill="#ff7f0e" stroke="#3a3a3a" stroke-width="0.55"/><rect x="284.4" y="315.2" width="4.0" height="4.0" fill="#ff7f0e" stroke="#3a3a3a" stroke-width="0.55"/><circle cx="278.1" cy="308.2" r="2.25" fill="#ff7f0e" stroke="#3a3a3a" stroke-width="0.55"/><circle cx="272.7" cy="314.7" r="2.25" fill="#ff7f0e" stroke="#3a3a3a" stroke-width="0.55"/><rect x="273.7" y="309.7" width="4.0" height="4.0" fill="#ff7f0e" stroke="#3a3a3a" stroke-width="0.55"/><circle cx="305.9" cy="314.8" r="2.25" fill="#ff7f0e" stroke="#3a3a3a" stroke-width="0.55"/><rect x="260.8" y="306.9" width="4.0" height="4.0" fill="#ff7f0e" stroke="#3a3a3a" stroke-width="0.55"/><rect x="259.1" y="313.7" width="4.0" height="4.0" fill="#ff7f0e" stroke="#3a3a3a" stroke-width="0.55"/><rect x="291.2" y="306.4" width="4.0" height="4.0" fill="#ff7f0e" stroke="#3a3a3a" stroke-width="0.55"/><rect x="266.2" y="308.4" width="4.0" height="4.0" fill="#ff7f0e" stroke="#3a3a3a" stroke-width="0.55"/><circle cx="309.7" cy="312.3" r="2.25" fill="#ff7f0e" stroke="#3a3a3a" stroke-width="0.55"/><rect x="276.9" y="316.5" width="4.0" height="4.0" fill="#ff7f0e" stroke="#3a3a3a" stroke-width="0.55"/><circle cx="254.8" cy="317.1" r="2.25" fill="#ff7f0e" stroke="#3a3a3a" stroke-width="0.55"/><circle cx="240.0" cy="309.9" r="2.25" fill="#ff7f0e" stroke="#3a3a3a" stroke-width="0.55"/><rect x="311.7" y="311.0" width="4.0" height="4.0" fill="#ff7f0e" stroke="#3a3a3a" stroke-width="0.55"/><circle cx="283.1" cy="317.5" r="2.25" fill="#ff7f0e" stroke="#3a3a3a" stroke-width="0.55"/><circle cx="280.1" cy="312.1" r="2.25" fill="#ff7f0e" stroke="#3a3a3a" stroke-width="0.55"/><rect x="286.6" y="310.9" width="4.0" height="4.0" fill="#ff7f0e" stroke="#3a3a3a" stroke-width="0.55"/><rect x="289.5" y="312.9" width="4.0" height="4.0" fill="#ff7f0e" stroke="#3a3a3a" stroke-width="0.55"/><circle cx="269.3" cy="313.7" r="2.25" fill="#ff7f0e" stroke="#3a3a3a" stroke-width="0.55"/><circle cx="316.1" cy="308.6" r="2.25" fill="#ff7f0e" stroke="#3a3a3a" stroke-width="0.55"/><circle cx="283.5" cy="312.9" r="2.25" fill="#ff7f0e" stroke="#3a3a3a" stroke-width="0.55"/><rect x="294.8" y="314.2" width="4.0" height="4.0" fill="#ff7f0e" stroke="#3a3a3a" stroke-width="0.55"/><circle cx="242.7" cy="311.6" r="2.25" fill="#ff7f0e" stroke="#3a3a3a" stroke-width="0.55"/><circle cx="272.8" cy="318.8" r="2.25" fill="#ff7f0e" stroke="#3a3a3a" stroke-width="0.55"/><rect x="313.1" y="313.8" width="4.0" height="4.0" fill="#ff7f0e" stroke="#3a3a3a" stroke-width="0.55"/><rect x="250.6" y="312.3" width="4.0" height="4.0" fill="#ff7f0e" stroke="#3a3a3a" stroke-width="0.55"/><circle cx="264.1" cy="318.4" r="2.25" fill="#ff7f0e" stroke="#3a3a3a" stroke-width="0.55"/><rect x="259.5" y="310.0" width="4.0" height="4.0" fill="#ff7f0e" stroke="#3a3a3a" stroke-width="0.55"/><rect x="241.2" y="315.1" width="4.0" height="4.0" fill="#ff7f0e" stroke="#3a3a3a" stroke-width="0.55"/><circle cx="259.0" cy="308.8" r="2.25" fill="#ff7f0e" stroke="#3a3a3a" stroke-width="0.55"/><circle cx="280.7" cy="315.4" r="2.25" fill="#ff7f0e" stroke="#3a3a3a" stroke-width="0.55"/><rect x="306.5" y="307.4" width="4.0" height="4.0" fill="#ff7f0e" stroke="#3a3a3a" stroke-width="0.55"/><circle cx="289.1" cy="309.5" r="2.25" fill="#ff7f0e" stroke="#3a3a3a" stroke-width="0.55"/><rect x="279.9" y="306.3" width="4.0" height="4.0" fill="#ff7f0e" stroke="#3a3a3a" stroke-width="0.55"/><circle cx="285.9" cy="310.5" r="2.25" fill="#ff7f0e" stroke="#3a3a3a" stroke-width="0.55"/><circle cx="242.8" cy="289.1" r="2.25" fill="#ff7f0e" stroke="#3a3a3a" stroke-width="0.55"/><rect x="263.2" y="287.1" width="4.0" height="4.0" fill="#ff7f0e" stroke="#3a3a3a" stroke-width="0.55"/><rect x="269.5" y="290.6" width="4.0" height="4.0" fill="#ff7f0e" stroke="#3a3a3a" stroke-width="0.55"/><rect x="277.5" y="295.1" width="4.0" height="4.0" fill="#ff7f0e" stroke="#3a3a3a" stroke-width="0.55"/><rect x="297.5" y="295.1" width="4.0" height="4.0" fill="#ff7f0e" stroke="#3a3a3a" stroke-width="0.55"/><rect x="262.5" y="299.0" width="4.0" height="4.0" fill="#ff7f0e" stroke="#3a3a3a" stroke-width="0.55"/><rect x="260.1" y="301.1" width="4.0" height="4.0" fill="#ff7f0e" stroke="#3a3a3a" stroke-width="0.55"/><rect x="281.2" y="300.4" width="4.0" height="4.0" fill="#ff7f0e" stroke="#3a3a3a" stroke-width="0.55"/><rect x="281.4" y="305.3" width="4.0" height="4.0" fill="#ff7f0e" stroke="#3a3a3a" stroke-width="0.55"/><rect x="284.2" y="306.7" width="4.0" height="4.0" fill="#ff7f0e" stroke="#3a3a3a" stroke-width="0.55"/><circle cx="277.8" cy="309.4" r="2.25" fill="#ff7f0e" stroke="#3a3a3a" stroke-width="0.55"/><circle cx="272.9" cy="308.0" r="2.25" fill="#ff7f0e" stroke="#3a3a3a" stroke-width="0.55"/><circle cx="308.7" cy="309.4" r="2.25" fill="#ff7f0e" stroke="#3a3a3a" stroke-width="0.55"/><rect x="303.8" y="305.3" width="4.0" height="4.0" fill="#ff7f0e" stroke="#3a3a3a" stroke-width="0.55"/><circle cx="316.4" cy="303.1" r="2.25" fill="#ff7f0e" stroke="#3a3a3a" stroke-width="0.55"/><rect x="245.7" y="299.0" width="4.0" height="4.0" fill="#ff7f0e" stroke="#3a3a3a" stroke-width="0.55"/><rect x="242.5" y="285.2" width="4.0" height="4.0" fill="#ff7f0e" stroke="#3a3a3a" stroke-width="0.55"/><rect x="248.0" y="306.0" width="4.0" height="4.0" fill="#ff7f0e" stroke="#3a3a3a" stroke-width="0.55"/><rect x="254.0" y="310.0" width="4.0" height="4.0" fill="#ff7f0e" stroke="#3a3a3a" stroke-width="0.55"/><circle cx="292.0" cy="312.0" r="2.25" fill="#ff7f0e" stroke="#3a3a3a" stroke-width="0.55"/><rect x="298.0" y="312.0" width="4.0" height="4.0" fill="#ff7f0e" stroke="#3a3a3a" stroke-width="0.55"/><rect x="310.0" y="312.0" width="4.0" height="4.0" fill="#ff7f0e" stroke="#3a3a3a" stroke-width="0.55"/><circle cx="262.0" cy="314.0" r="2.25" fill="#ff7f0e" stroke="#3a3a3a" stroke-width="0.55"/><circle cx="280.0" cy="314.0" r="2.25" fill="#ff7f0e" stroke="#3a3a3a" stroke-width="0.55"/><circle cx="65.6" cy="302.2" r="2.25" fill="#87cefa" stroke="#3a3a3a" stroke-width="0.55"/><path d="M55.5,310.1L60.0,310.1L57.7,314.0Z" fill="#87cefa" stroke="#3a3a3a" stroke-width="0.55"/><rect x="68.7" y="284.4" width="4.0" height="4.0" fill="#87cefa" stroke="#3a3a3a" stroke-width="0.55"/><circle cx="62.9" cy="296.9" r="2.25" fill="#87cefa" stroke="#3a3a3a" stroke-width="0.55"/><circle cx="43.0" cy="323.3" r="2.25" fill="#87cefa" stroke="#3a3a3a" stroke-width="0.55"/><rect x="54.4" y="313.2" width="4.0" height="4.0" fill="#87cefa" stroke="#3a3a3a" stroke-width="0.55"/><rect x="65.1" y="297.7" width="4.0" height="4.0" fill="#87cefa" stroke="#3a3a3a" stroke-width="0.55"/><path d="M38.5,316.2L43.0,316.2L40.7,320.2Z" fill="#87cefa" stroke="#3a3a3a" stroke-width="0.55"/><rect x="41.6" y="315.0" width="4.0" height="4.0" fill="#87cefa" stroke="#3a3a3a" stroke-width="0.55"/><rect x="31.2" y="310.6" width="4.0" height="4.0" fill="#87cefa" stroke="#3a3a3a" stroke-width="0.55"/><rect x="58.1" y="293.4" width="4.0" height="4.0" fill="#87cefa" stroke="#3a3a3a" stroke-width="0.55"/><circle cx="60.7" cy="314.5" r="2.25" fill="#87cefa" stroke="#3a3a3a" stroke-width="0.55"/><rect x="67.4" y="306.7" width="4.0" height="4.0" fill="#87cefa" stroke="#3a3a3a" stroke-width="0.55"/><rect x="51.3" y="309.4" width="4.0" height="4.0" fill="#87cefa" stroke="#3a3a3a" stroke-width="0.55"/><circle cx="49.3" cy="317.2" r="2.25" fill="#87cefa" stroke="#3a3a3a" stroke-width="0.55"/><rect x="34.2" y="314.1" width="4.0" height="4.0" fill="#87cefa" stroke="#3a3a3a" stroke-width="0.55"/><circle cx="36.6" cy="321.7" r="2.25" fill="#87cefa" stroke="#3a3a3a" stroke-width="0.55"/><circle cx="60.2" cy="300.5" r="2.25" fill="#87cefa" stroke="#3a3a3a" stroke-width="0.55"/><circle cx="63.9" cy="306.0" r="2.25" fill="#87cefa" stroke="#3a3a3a" stroke-width="0.55"/><circle cx="46.3" cy="318.9" r="2.25" fill="#87cefa" stroke="#3a3a3a" stroke-width="0.55"/><circle cx="40.3" cy="325.3" r="2.25" fill="#87cefa" stroke="#3a3a3a" stroke-width="0.55"/><circle cx="54.9" cy="306.2" r="2.25" fill="#87cefa" stroke="#3a3a3a" stroke-width="0.55"/><path d="M62.0,287.6L66.5,287.6L64.3,291.5Z" fill="#87cefa" stroke="#3a3a3a" stroke-width="0.55"/><circle cx="60.6" cy="310.9" r="2.25" fill="#87cefa" stroke="#3a3a3a" stroke-width="0.55"/><rect x="61.8" y="291.5" width="4.0" height="4.0" fill="#87cefa" stroke="#3a3a3a" stroke-width="0.55"/><circle cx="60.0" cy="307.7" r="2.25" fill="#87cefa" stroke="#3a3a3a" stroke-width="0.55"/><circle cx="68.2" cy="288.5" r="2.25" fill="#87cefa" stroke="#3a3a3a" stroke-width="0.55"/><rect x="68.4" y="301.2" width="4.0" height="4.0" fill="#87cefa" stroke="#3a3a3a" stroke-width="0.55"/><rect x="54.7" y="301.2" width="4.0" height="4.0" fill="#87cefa" stroke="#3a3a3a" stroke-width="0.55"/><circle cx="34.9" cy="319.0" r="2.25" fill="#87cefa" stroke="#3a3a3a" stroke-width="0.55"/><rect x="65.2" y="294.2" width="4.0" height="4.0" fill="#87cefa" stroke="#3a3a3a" stroke-width="0.55"/><rect x="50.7" y="312.4" width="4.0" height="4.0" fill="#87cefa" stroke="#3a3a3a" stroke-width="0.55"/><rect x="48.4" y="318.5" width="4.0" height="4.0" fill="#87cefa" stroke="#3a3a3a" stroke-width="0.55"/><rect x="32.4" y="322.6" width="4.0" height="4.0" fill="#87cefa" stroke="#3a3a3a" stroke-width="0.55"/><rect x="48.0" y="310.9" width="4.0" height="4.0" fill="#87cefa" stroke="#3a3a3a" stroke-width="0.55"/><circle cx="70.6" cy="282.5" r="2.25" fill="#87cefa" stroke="#3a3a3a" stroke-width="0.55"/><rect x="51.7" y="315.2" width="4.0" height="4.0" fill="#87cefa" stroke="#3a3a3a" stroke-width="0.55"/><rect x="68.3" y="296.0" width="4.0" height="4.0" fill="#87cefa" stroke="#3a3a3a" stroke-width="0.55"/><rect x="38.3" y="319.0" width="4.0" height="4.0" fill="#87cefa" stroke="#3a3a3a" stroke-width="0.55"/><rect x="43.7" y="320.1" width="4.0" height="4.0" fill="#87cefa" stroke="#3a3a3a" stroke-width="0.55"/><circle cx="162.1" cy="268.3" r="2.25" fill="#87cefa" stroke="#3a3a3a" stroke-width="0.55"/><path d="M110.0,280.3L114.5,280.3L112.2,284.3Z" fill="#87cefa" stroke="#3a3a3a" stroke-width="0.55"/><rect x="82.1" y="281.4" width="4.0" height="4.0" fill="#87cefa" stroke="#3a3a3a" stroke-width="0.55"/><circle cx="172.0" cy="266.5" r="2.25" fill="#87cefa" stroke="#3a3a3a" stroke-width="0.55"/><rect x="139.9" y="279.0" width="4.0" height="4.0" fill="#87cefa" stroke="#3a3a3a" stroke-width="0.55"/><rect x="153.1" y="269.9" width="4.0" height="4.0" fill="#87cefa" stroke="#3a3a3a" stroke-width="0.55"/><circle cx="173.2" cy="270.8" r="2.25" fill="#87cefa" stroke="#3a3a3a" stroke-width="0.55"/><circle cx="181.0" cy="268.6" r="2.25" fill="#87cefa" stroke="#3a3a3a" stroke-width="0.55"/><circle cx="155.0" cy="276.5" r="2.25" fill="#87cefa" stroke="#3a3a3a" stroke-width="0.55"/><rect x="97.8" y="283.9" width="4.0" height="4.0" fill="#87cefa" stroke="#3a3a3a" stroke-width="0.55"/><path d="M111.6,284.2L116.1,284.2L113.9,288.1Z" fill="#87cefa" stroke="#3a3a3a" stroke-width="0.55"/><rect x="84.7" y="284.2" width="4.0" height="4.0" fill="#87cefa" stroke="#3a3a3a" stroke-width="0.55"/><rect x="107.0" y="284.3" width="4.0" height="4.0" fill="#87cefa" stroke="#3a3a3a" stroke-width="0.55"/><rect x="163.2" y="270.7" width="4.0" height="4.0" fill="#87cefa" stroke="#3a3a3a" stroke-width="0.55"/><path d="M85.0,288.4L89.5,288.4L87.3,292.3Z" fill="#87cefa" stroke="#3a3a3a" stroke-width="0.55"/><circle cx="143.8" cy="274.6" r="2.25" fill="#87cefa" stroke="#3a3a3a" stroke-width="0.55"/><rect x="165.7" y="266.9" width="4.0" height="4.0" fill="#87cefa" stroke="#3a3a3a" stroke-width="0.55"/><rect x="120.1" y="278.5" width="4.0" height="4.0" fill="#87cefa" stroke="#3a3a3a" stroke-width="0.55"/><rect x="156.1" y="272.8" width="4.0" height="4.0" fill="#87cefa" stroke="#3a3a3a" stroke-width="0.55"/><rect x="165.7" y="263.4" width="4.0" height="4.0" fill="#87cefa" stroke="#3a3a3a" stroke-width="0.55"/><rect x="107.4" y="279.2" width="4.0" height="4.0" fill="#87cefa" stroke="#3a3a3a" stroke-width="0.55"/><path d="M72.6,289.3L77.1,289.3L74.9,293.2Z" fill="#87cefa" stroke="#3a3a3a" stroke-width="0.55"/><circle cx="97.0" cy="280.9" r="2.25" fill="#87cefa" stroke="#3a3a3a" stroke-width="0.55"/><circle cx="79.4" cy="289.5" r="2.25" fill="#87cefa" stroke="#3a3a3a" stroke-width="0.55"/><circle cx="93.8" cy="284.8" r="2.25" fill="#87cefa" stroke="#3a3a3a" stroke-width="0.55"/><circle cx="176.9" cy="264.2" r="2.25" fill="#87cefa" stroke="#3a3a3a" stroke-width="0.55"/><path d="M121.5,283.1L126.0,283.1L123.8,287.1Z" fill="#87cefa" stroke="#3a3a3a" stroke-width="0.55"/><path d="M150.5,272.0L155.0,272.0L152.7,276.0Z" fill="#87cefa" stroke="#3a3a3a" stroke-width="0.55"/><rect x="81.6" y="285.1" width="4.0" height="4.0" fill="#87cefa" stroke="#3a3a3a" stroke-width="0.55"/><circle cx="125.2" cy="280.8" r="2.25" fill="#87cefa" stroke="#3a3a3a" stroke-width="0.55"/><path d="M146.3,272.5L150.8,272.5L148.5,276.4Z" fill="#87cefa" stroke="#3a3a3a" stroke-width="0.55"/><circle cx="172.6" cy="262.2" r="2.25" fill="#87cefa" stroke="#3a3a3a" stroke-width="0.55"/><circle cx="137.0" cy="278.8" r="2.25" fill="#87cefa" stroke="#3a3a3a" stroke-width="0.55"/><rect x="148.9" y="273.5" width="4.0" height="4.0" fill="#87cefa" stroke="#3a3a3a" stroke-width="0.55"/><rect x="160.2" y="271.1" width="4.0" height="4.0" fill="#87cefa" stroke="#3a3a3a" stroke-width="0.55"/><circle cx="96.1" cy="288.4" r="2.25" fill="#87cefa" stroke="#3a3a3a" stroke-width="0.55"/><circle cx="181.2" cy="264.8" r="2.25" fill="#87cefa" stroke="#3a3a3a" stroke-width="0.55"/><rect x="103.2" y="280.4" width="4.0" height="4.0" fill="#87cefa" stroke="#3a3a3a" stroke-width="0.55"/><circle cx="132.2" cy="280.3" r="2.25" fill="#87cefa" stroke="#3a3a3a" stroke-width="0.55"/><circle cx="177.2" cy="272.6" r="2.25" fill="#87cefa" stroke="#3a3a3a" stroke-width="0.55"/><circle cx="92.2" cy="289.2" r="2.25" fill="#87cefa" stroke="#3a3a3a" stroke-width="0.55"/><circle cx="74.6" cy="287.6" r="2.25" fill="#87cefa" stroke="#3a3a3a" stroke-width="0.55"/><rect x="168.8" y="270.2" width="4.0" height="4.0" fill="#87cefa" stroke="#3a3a3a" stroke-width="0.55"/><rect x="172.6" y="265.7" width="4.0" height="4.0" fill="#87cefa" stroke="#3a3a3a" stroke-width="0.55"/><circle cx="160.4" cy="270.6" r="2.25" fill="#87cefa" stroke="#3a3a3a" stroke-width="0.55"/><rect x="100.3" y="281.5" width="4.0" height="4.0" fill="#87cefa" stroke="#3a3a3a" stroke-width="0.55"/><circle cx="128.5" cy="280.7" r="2.25" fill="#87cefa" stroke="#3a3a3a" stroke-width="0.55"/><circle cx="82.2" cy="281.3" r="2.25" fill="#87cefa" stroke="#3a3a3a" stroke-width="0.55"/><circle cx="91.3" cy="286.4" r="2.25" fill="#87cefa" stroke="#3a3a3a" stroke-width="0.55"/><path d="M75.5,290.4L80.0,290.4L77.8,294.3Z" fill="#87cefa" stroke="#3a3a3a" stroke-width="0.55"/><path d="M91.6,280.3L96.1,280.3L93.9,284.2Z" fill="#87cefa" stroke="#3a3a3a" stroke-width="0.55"/><rect x="115.1" y="281.5" width="4.0" height="4.0" fill="#87cefa" stroke="#3a3a3a" stroke-width="0.55"/><rect x="85.9" y="280.5" width="4.0" height="4.0" fill="#87cefa" stroke="#3a3a3a" stroke-width="0.55"/><rect x="113.1" y="277.8" width="4.0" height="4.0" fill="#87cefa" stroke="#3a3a3a" stroke-width="0.55"/><circle cx="144.9" cy="279.3" r="2.25" fill="#87cefa" stroke="#3a3a3a" stroke-width="0.55"/><circle cx="146.5" cy="276.1" r="2.25" fill="#87cefa" stroke="#3a3a3a" stroke-width="0.55"/><rect x="82.7" y="288.0" width="4.0" height="4.0" fill="#87cefa" stroke="#3a3a3a" stroke-width="0.55"/><rect x="105.5" y="281.4" width="4.0" height="4.0" fill="#87cefa" stroke="#3a3a3a" stroke-width="0.55"/><rect x="128.5" y="281.8" width="4.0" height="4.0" fill="#87cefa" stroke="#3a3a3a" stroke-width="0.55"/><circle cx="142.3" cy="278.0" r="2.25" fill="#87cefa" stroke="#3a3a3a" stroke-width="0.55"/><circle cx="139.0" cy="280.9" r="2.25" fill="#87cefa" stroke="#3a3a3a" stroke-width="0.55"/><circle cx="151.2" cy="278.9" r="2.25" fill="#87cefa" stroke="#3a3a3a" stroke-width="0.55"/><rect x="177.4" y="258.2" width="4.0" height="4.0" fill="#87cefa" stroke="#3a3a3a" stroke-width="0.55"/><path d="M75.9,281.2L80.4,281.2L78.2,285.2Z" fill="#87cefa" stroke="#3a3a3a" stroke-width="0.55"/><circle cx="141.3" cy="275.5" r="2.25" fill="#87cefa" stroke="#3a3a3a" stroke-width="0.55"/><circle cx="91.3" cy="282.3" r="2.25" fill="#87cefa" stroke="#3a3a3a" stroke-width="0.55"/><circle cx="133.7" cy="277.3" r="2.25" fill="#87cefa" stroke="#3a3a3a" stroke-width="0.55"/><rect x="126.6" y="275.2" width="4.0" height="4.0" fill="#87cefa" stroke="#3a3a3a" stroke-width="0.55"/><path d="M99.3,286.3L103.8,286.3L101.6,290.2Z" fill="#87cefa" stroke="#3a3a3a" stroke-width="0.55"/><path d="M116.8,284.2L121.3,284.2L119.0,288.2Z" fill="#87cefa" stroke="#3a3a3a" stroke-width="0.55"/><rect x="118.6" y="281.9" width="4.0" height="4.0" fill="#87cefa" stroke="#3a3a3a" stroke-width="0.55"/><path d="M132.6,280.3L137.1,280.3L134.9,284.2Z" fill="#87cefa" stroke="#3a3a3a" stroke-width="0.55"/><rect x="122.5" y="276.2" width="4.0" height="4.0" fill="#87cefa" stroke="#3a3a3a" stroke-width="0.55"/><rect x="95.5" y="282.4" width="4.0" height="4.0" fill="#87cefa" stroke="#3a3a3a" stroke-width="0.55"/><circle cx="106.5" cy="279.6" r="2.25" fill="#87cefa" stroke="#3a3a3a" stroke-width="0.55"/><circle cx="72.2" cy="282.6" r="2.25" fill="#87cefa" stroke="#3a3a3a" stroke-width="0.55"/><rect x="160.7" y="263.5" width="4.0" height="4.0" fill="#87cefa" stroke="#3a3a3a" stroke-width="0.55"/><rect x="179.3" y="270.0" width="4.0" height="4.0" fill="#87cefa" stroke="#3a3a3a" stroke-width="0.55"/><rect x="76.4" y="284.2" width="4.0" height="4.0" fill="#87cefa" stroke="#3a3a3a" stroke-width="0.55"/><path d="M125.1,282.7L129.6,282.7L127.3,286.6Z" fill="#87cefa" stroke="#3a3a3a" stroke-width="0.55"/><circle cx="138.4" cy="276.6" r="2.25" fill="#87cefa" stroke="#3a3a3a" stroke-width="0.55"/><rect x="80.0" y="288.6" width="4.0" height="4.0" fill="#87cefa" stroke="#3a3a3a" stroke-width="0.55"/><rect x="102.1" y="285.9" width="4.0" height="4.0" fill="#87cefa" stroke="#3a3a3a" stroke-width="0.55"/><rect x="146.7" y="275.3" width="4.0" height="4.0" fill="#87cefa" stroke="#3a3a3a" stroke-width="0.55"/><rect x="166.2" y="271.6" width="4.0" height="4.0" fill="#87cefa" stroke="#3a3a3a" stroke-width="0.55"/><rect x="176.3" y="268.0" width="4.0" height="4.0" fill="#87cefa" stroke="#3a3a3a" stroke-width="0.55"/><circle cx="118.3" cy="280.8" r="2.25" fill="#87cefa" stroke="#3a3a3a" stroke-width="0.55"/><circle cx="100.1" cy="280.2" r="2.25" fill="#87cefa" stroke="#3a3a3a" stroke-width="0.55"/><circle cx="76.0" cy="285.4" r="2.25" fill="#87cefa" stroke="#3a3a3a" stroke-width="0.55"/><rect x="162.6" y="267.6" width="4.0" height="4.0" fill="#87cefa" stroke="#3a3a3a" stroke-width="0.55"/><circle cx="82.0" cy="285.1" r="2.25" fill="#87cefa" stroke="#3a3a3a" stroke-width="0.55"/><rect x="103.9" y="283.4" width="4.0" height="4.0" fill="#87cefa" stroke="#3a3a3a" stroke-width="0.55"/><rect x="118.1" y="276.0" width="4.0" height="4.0" fill="#87cefa" stroke="#3a3a3a" stroke-width="0.55"/><rect x="97.5" y="280.7" width="4.0" height="4.0" fill="#87cefa" stroke="#3a3a3a" stroke-width="0.55"/><rect x="173.0" y="259.3" width="4.0" height="4.0" fill="#87cefa" stroke="#3a3a3a" stroke-width="0.55"/><circle cx="165.3" cy="267.2" r="2.25" fill="#87cefa" stroke="#3a3a3a" stroke-width="0.55"/><circle cx="72.0" cy="293.5" r="2.25" fill="#87cefa" stroke="#3a3a3a" stroke-width="0.55"/><rect x="72.6" y="280.9" width="4.0" height="4.0" fill="#87cefa" stroke="#3a3a3a" stroke-width="0.55"/><circle cx="165.3" cy="264.1" r="2.25" fill="#87cefa" stroke="#3a3a3a" stroke-width="0.55"/><rect x="168.2" y="261.8" width="4.0" height="4.0" fill="#87cefa" stroke="#3a3a3a" stroke-width="0.55"/><circle cx="72.1" cy="285.1" r="2.25" fill="#87cefa" stroke="#3a3a3a" stroke-width="0.55"/><circle cx="157.3" cy="270.0" r="2.25" fill="#87cefa" stroke="#3a3a3a" stroke-width="0.55"/><rect x="70.2" y="288.5" width="4.0" height="4.0" fill="#87cefa" stroke="#3a3a3a" stroke-width="0.55"/><circle cx="98.6" cy="289.0" r="2.25" fill="#87cefa" stroke="#3a3a3a" stroke-width="0.55"/><rect x="172.4" y="262.1" width="4.0" height="4.0" fill="#87cefa" stroke="#3a3a3a" stroke-width="0.55"/><rect x="146.2" y="277.9" width="4.0" height="4.0" fill="#87cefa" stroke="#3a3a3a" stroke-width="0.55"/><rect x="101.4" y="278.0" width="4.0" height="4.0" fill="#87cefa" stroke="#3a3a3a" stroke-width="0.55"/><circle cx="178.2" cy="267.4" r="2.25" fill="#87cefa" stroke="#3a3a3a" stroke-width="0.55"/><path d="M83.0,279.5L87.5,279.5L85.3,283.4Z" fill="#87cefa" stroke="#3a3a3a" stroke-width="0.55"/><rect x="157.5" y="265.3" width="4.0" height="4.0" fill="#87cefa" stroke="#3a3a3a" stroke-width="0.55"/><circle cx="170.4" cy="268.6" r="2.25" fill="#87cefa" stroke="#3a3a3a" stroke-width="0.55"/><circle cx="179.3" cy="263.0" r="2.25" fill="#87cefa" stroke="#3a3a3a" stroke-width="0.55"/><rect x="109.3" y="285.4" width="4.0" height="4.0" fill="#87cefa" stroke="#3a3a3a" stroke-width="0.55"/><circle cx="111.7" cy="279.5" r="2.25" fill="#87cefa" stroke="#3a3a3a" stroke-width="0.55"/><rect x="108.4" y="281.9" width="4.0" height="4.0" fill="#87cefa" stroke="#3a3a3a" stroke-width="0.55"/><path d="M114.1,285.0L118.6,285.0L116.4,288.9Z" fill="#87cefa" stroke="#3a3a3a" stroke-width="0.55"/><path d="M87.6,288.5L92.1,288.5L89.9,292.5Z" fill="#87cefa" stroke="#3a3a3a" stroke-width="0.55"/><circle cx="160.7" cy="275.6" r="2.25" fill="#87cefa" stroke="#3a3a3a" stroke-width="0.55"/><path d="M112.4,281.3L116.9,281.3L114.6,285.3Z" fill="#87cefa" stroke="#3a3a3a" stroke-width="0.55"/><rect x="74.9" y="286.7" width="4.0" height="4.0" fill="#87cefa" stroke="#3a3a3a" stroke-width="0.55"/><circle cx="106.9" cy="288.0" r="2.25" fill="#87cefa" stroke="#3a3a3a" stroke-width="0.55"/><path d="M173.5,268.3L178.0,268.3L175.7,272.2Z" fill="#87cefa" stroke="#3a3a3a" stroke-width="0.55"/><rect x="115.5" y="276.4" width="4.0" height="4.0" fill="#87cefa" stroke="#3a3a3a" stroke-width="0.55"/><circle cx="89.4" cy="284.7" r="2.25" fill="#87cefa" stroke="#3a3a3a" stroke-width="0.55"/><circle cx="158.4" cy="272.4" r="2.25" fill="#87cefa" stroke="#3a3a3a" stroke-width="0.55"/><circle cx="88.8" cy="287.7" r="2.25" fill="#87cefa" stroke="#3a3a3a" stroke-width="0.55"/><path d="M179.6,259.4L184.1,259.4L181.8,263.4Z" fill="#87cefa" stroke="#3a3a3a" stroke-width="0.55"/><circle cx="81.0" cy="287.4" r="2.25" fill="#87cefa" stroke="#3a3a3a" stroke-width="0.55"/><circle cx="194.1" cy="255.6" r="2.25" fill="#87cefa" stroke="#3a3a3a" stroke-width="0.55"/><circle cx="223.4" cy="248.9" r="2.25" fill="#87cefa" stroke="#3a3a3a" stroke-width="0.55"/><circle cx="209.8" cy="249.9" r="2.25" fill="#87cefa" stroke="#3a3a3a" stroke-width="0.55"/><circle cx="196.4" cy="263.5" r="2.25" fill="#87cefa" stroke="#3a3a3a" stroke-width="0.55"/><circle cx="198.7" cy="254.7" r="2.25" fill="#87cefa" stroke="#3a3a3a" stroke-width="0.55"/><circle cx="185.8" cy="265.6" r="2.25" fill="#87cefa" stroke="#3a3a3a" stroke-width="0.55"/><rect x="205.4" y="253.6" width="4.0" height="4.0" fill="#87cefa" stroke="#3a3a3a" stroke-width="0.55"/><path d="M210.6,254.3L215.1,254.3L212.8,258.3Z" fill="#87cefa" stroke="#3a3a3a" stroke-width="0.55"/><circle cx="217.6" cy="251.5" r="2.25" fill="#87cefa" stroke="#3a3a3a" stroke-width="0.55"/><rect x="188.3" y="256.9" width="4.0" height="4.0" fill="#87cefa" stroke="#3a3a3a" stroke-width="0.55"/><circle cx="201.8" cy="256.8" r="2.25" fill="#87cefa" stroke="#3a3a3a" stroke-width="0.55"/><circle cx="228.7" cy="252.5" r="2.25" fill="#87cefa" stroke="#3a3a3a" stroke-width="0.55"/><circle cx="242.0" cy="251.9" r="2.25" fill="#87cefa" stroke="#3a3a3a" stroke-width="0.55"/><circle cx="234.9" cy="253.8" r="2.25" fill="#87cefa" stroke="#3a3a3a" stroke-width="0.55"/><path d="M182.6,267.2L187.1,267.2L184.8,271.2Z" fill="#87cefa" stroke="#3a3a3a" stroke-width="0.55"/><circle cx="186.2" cy="261.2" r="2.25" fill="#87cefa" stroke="#3a3a3a" stroke-width="0.55"/><circle cx="219.9" cy="245.2" r="2.25" fill="#87cefa" stroke="#3a3a3a" stroke-width="0.55"/><circle cx="207.0" cy="260.3" r="2.25" fill="#87cefa" stroke="#3a3a3a" stroke-width="0.55"/><rect x="202.1" y="249.2" width="4.0" height="4.0" fill="#87cefa" stroke="#3a3a3a" stroke-width="0.55"/><circle cx="212.2" cy="252.5" r="2.25" fill="#87cefa" stroke="#3a3a3a" stroke-width="0.55"/><circle cx="225.1" cy="244.8" r="2.25" fill="#87cefa" stroke="#3a3a3a" stroke-width="0.55"/><circle cx="235.6" cy="246.9" r="2.25" fill="#87cefa" stroke="#3a3a3a" stroke-width="0.55"/><circle cx="186.8" cy="257.4" r="2.25" fill="#87cefa" stroke="#3a3a3a" stroke-width="0.55"/><rect x="235.4" y="255.0" width="4.0" height="4.0" fill="#87cefa" stroke="#3a3a3a" stroke-width="0.55"/><path d="M180.5,260.7L185.0,260.7L182.8,264.7Z" fill="#87cefa" stroke="#3a3a3a" stroke-width="0.55"/><circle cx="241.9" cy="243.2" r="2.25" fill="#87cefa" stroke="#3a3a3a" stroke-width="0.55"/><circle cx="222.9" cy="252.6" r="2.25" fill="#87cefa" stroke="#3a3a3a" stroke-width="0.55"/><circle cx="230.9" cy="249.0" r="2.25" fill="#87cefa" stroke="#3a3a3a" stroke-width="0.55"/><path d="M225.7,256.0L230.2,256.0L228.0,260.0Z" fill="#87cefa" stroke="#3a3a3a" stroke-width="0.55"/><rect x="212.3" y="246.6" width="4.0" height="4.0" fill="#87cefa" stroke="#3a3a3a" stroke-width="0.55"/><circle cx="201.8" cy="260.5" r="2.25" fill="#87cefa" stroke="#3a3a3a" stroke-width="0.55"/><circle cx="224.4" cy="257.6" r="2.25" fill="#87cefa" stroke="#3a3a3a" stroke-width="0.55"/><circle cx="194.1" cy="260.1" r="2.25" fill="#87cefa" stroke="#3a3a3a" stroke-width="0.55"/><circle cx="218.2" cy="255.4" r="2.25" fill="#87cefa" stroke="#3a3a3a" stroke-width="0.55"/><circle cx="193.3" cy="265.5" r="2.25" fill="#87cefa" stroke="#3a3a3a" stroke-width="0.55"/><circle cx="239.1" cy="248.9" r="2.25" fill="#87cefa" stroke="#3a3a3a" stroke-width="0.55"/><circle cx="231.8" cy="255.5" r="2.25" fill="#87cefa" stroke="#3a3a3a" stroke-width="0.55"/><circle cx="220.7" cy="258.3" r="2.25" fill="#87cefa" stroke="#3a3a3a" stroke-width="0.55"/><circle cx="232.1" cy="244.2" r="2.25" fill="#87cefa" stroke="#3a3a3a" stroke-width="0.55"/><circle cx="236.3" cy="243.2" r="2.25" fill="#87cefa" stroke="#3a3a3a" stroke-width="0.55"/><circle cx="217.3" cy="259.6" r="2.25" fill="#87cefa" stroke="#3a3a3a" stroke-width="0.55"/><rect x="239.7" y="254.2" width="4.0" height="4.0" fill="#87cefa" stroke="#3a3a3a" stroke-width="0.55"/><circle cx="108.5" cy="290.4" r="2.25" fill="#87cefa" stroke="#3a3a3a" stroke-width="0.55"/><circle cx="108.5" cy="298.9" r="2.25" fill="#87cefa" stroke="#3a3a3a" stroke-width="0.55"/><circle cx="123.9" cy="315.9" r="2.25" fill="#87cefa" stroke="#3a3a3a" stroke-width="0.55"/><circle cx="147.0" cy="279.6" r="2.25" fill="#87cefa" stroke="#3a3a3a" stroke-width="0.55"/><circle cx="181.8" cy="273.4" r="2.25" fill="#87cefa" stroke="#3a3a3a" stroke-width="0.55"/><circle cx="230.5" cy="295.2" r="2.25" fill="#87cefa" stroke="#3a3a3a" stroke-width="0.55"/><circle cx="217.1" cy="305.3" r="2.25" fill="#87cefa" stroke="#3a3a3a" stroke-width="0.55"/><circle cx="228.0" cy="308.3" r="2.25" fill="#87cefa" stroke="#3a3a3a" stroke-width="0.55"/><circle cx="239.8" cy="316.2" r="2.25" fill="#87cefa" stroke="#3a3a3a" stroke-width="0.55"/><circle cx="81.6" cy="308.1" r="2.25" fill="#87cefa" stroke="#3a3a3a" stroke-width="0.55"/><circle cx="94.0" cy="319.7" r="2.25" fill="#87cefa" stroke="#3a3a3a" stroke-width="0.55"/><circle cx="61.6" cy="307.4" r="2.25" fill="#87cefa" stroke="#3a3a3a" stroke-width="0.55"/><circle cx="140.0" cy="322.0" r="2.25" fill="#87cefa" stroke="#3a3a3a" stroke-width="0.55"/><circle cx="35.0" cy="316.0" r="2.25" fill="#87cefa" stroke="#3a3a3a" stroke-width="0.55"/><circle cx="34.0" cy="320.0" r="2.25" fill="#87cefa" stroke="#3a3a3a" stroke-width="0.55"/><path d="M223.8,244.6L228.3,244.6L226.1,248.6Z" fill="#87cefa" stroke="#3a3a3a" stroke-width="0.55"/><circle cx="281.3" cy="155.5" r="2.25" fill="#87cefa" stroke="#3a3a3a" stroke-width="0.55"/><circle cx="310.6" cy="182.0" r="2.25" fill="#87cefa" stroke="#3a3a3a" stroke-width="0.55"/><circle cx="295.6" cy="195.5" r="2.25" fill="#87cefa" stroke="#3a3a3a" stroke-width="0.55"/><circle cx="314.0" cy="195.5" r="2.25" fill="#87cefa" stroke="#3a3a3a" stroke-width="0.55"/><circle cx="286.0" cy="207.1" r="2.25" fill="#87cefa" stroke="#3a3a3a" stroke-width="0.55"/><circle cx="308.3" cy="207.1" r="2.25" fill="#87cefa" stroke="#3a3a3a" stroke-width="0.55"/><circle cx="314.0" cy="207.1" r="2.25" fill="#87cefa" stroke="#3a3a3a" stroke-width="0.55"/><circle cx="315.7" cy="215.7" r="2.25" fill="#87cefa" stroke="#3a3a3a" stroke-width="0.55"/><circle cx="278.1" cy="215.7" r="2.25" fill="#87cefa" stroke="#3a3a3a" stroke-width="0.55"/><circle cx="280.3" cy="215.7" r="2.25" fill="#87cefa" stroke="#3a3a3a" stroke-width="0.55"/><circle cx="277.0" cy="222.8" r="2.25" fill="#87cefa" stroke="#3a3a3a" stroke-width="0.55"/><circle cx="282.6" cy="222.8" r="2.25" fill="#87cefa" stroke="#3a3a3a" stroke-width="0.55"/><circle cx="288.9" cy="220.6" r="2.25" fill="#87cefa" stroke="#3a3a3a" stroke-width="0.55"/><circle cx="294.9" cy="224.0" r="2.25" fill="#87cefa" stroke="#3a3a3a" stroke-width="0.55"/><circle cx="299.4" cy="222.8" r="2.25" fill="#87cefa" stroke="#3a3a3a" stroke-width="0.55"/><circle cx="303.9" cy="226.2" r="2.25" fill="#87cefa" stroke="#3a3a3a" stroke-width="0.55"/><circle cx="310.6" cy="220.6" r="2.25" fill="#87cefa" stroke="#3a3a3a" stroke-width="0.55"/><circle cx="310.6" cy="222.8" r="2.25" fill="#87cefa" stroke="#3a3a3a" stroke-width="0.55"/><circle cx="296.0" cy="226.2" r="2.25" fill="#87cefa" stroke="#3a3a3a" stroke-width="0.55"/><circle cx="266.9" cy="228.4" r="2.25" fill="#87cefa" stroke="#3a3a3a" stroke-width="0.55"/><circle cx="269.1" cy="228.4" r="2.25" fill="#87cefa" stroke="#3a3a3a" stroke-width="0.55"/><circle cx="287.0" cy="228.4" r="2.25" fill="#87cefa" stroke="#3a3a3a" stroke-width="0.55"/><circle cx="274.7" cy="222.7" r="2.25" fill="#87cefa" stroke="#3a3a3a" stroke-width="0.55"/><circle cx="281.5" cy="222.7" r="2.25" fill="#87cefa" stroke="#3a3a3a" stroke-width="0.55"/><circle cx="288.2" cy="220.4" r="2.25" fill="#87cefa" stroke="#3a3a3a" stroke-width="0.55"/><circle cx="294.9" cy="223.4" r="2.25" fill="#87cefa" stroke="#3a3a3a" stroke-width="0.55"/><circle cx="298.3" cy="223.4" r="2.25" fill="#87cefa" stroke="#3a3a3a" stroke-width="0.55"/><circle cx="303.9" cy="225.6" r="2.25" fill="#87cefa" stroke="#3a3a3a" stroke-width="0.55"/><circle cx="310.6" cy="222.7" r="2.25" fill="#87cefa" stroke="#3a3a3a" stroke-width="0.55"/><circle cx="293.8" cy="225.6" r="2.25" fill="#87cefa" stroke="#3a3a3a" stroke-width="0.55"/><circle cx="264.6" cy="230.1" r="2.25" fill="#87cefa" stroke="#3a3a3a" stroke-width="0.55"/><circle cx="268.0" cy="229.4" r="2.25" fill="#87cefa" stroke="#3a3a3a" stroke-width="0.55"/><circle cx="270.3" cy="231.2" r="2.25" fill="#87cefa" stroke="#3a3a3a" stroke-width="0.55"/><circle cx="265.8" cy="233.4" r="2.25" fill="#87cefa" stroke="#3a3a3a" stroke-width="0.55"/><circle cx="259.0" cy="234.6" r="2.25" fill="#87cefa" stroke="#3a3a3a" stroke-width="0.55"/><circle cx="262.4" cy="235.7" r="2.25" fill="#87cefa" stroke="#3a3a3a" stroke-width="0.55"/><circle cx="268.0" cy="235.7" r="2.25" fill="#87cefa" stroke="#3a3a3a" stroke-width="0.55"/><circle cx="273.6" cy="234.6" r="2.25" fill="#87cefa" stroke="#3a3a3a" stroke-width="0.55"/><circle cx="277.0" cy="233.4" r="2.25" fill="#87cefa" stroke="#3a3a3a" stroke-width="0.55"/><circle cx="279.2" cy="231.2" r="2.25" fill="#87cefa" stroke="#3a3a3a" stroke-width="0.55"/><circle cx="275.9" cy="236.8" r="2.25" fill="#87cefa" stroke="#3a3a3a" stroke-width="0.55"/><circle cx="287.1" cy="229.4" r="2.25" fill="#87cefa" stroke="#3a3a3a" stroke-width="0.55"/><circle cx="285.9" cy="234.6" r="2.25" fill="#87cefa" stroke="#3a3a3a" stroke-width="0.55"/><circle cx="246.7" cy="239.0" r="2.25" fill="#87cefa" stroke="#3a3a3a" stroke-width="0.55"/><circle cx="251.2" cy="241.3" r="2.25" fill="#87cefa" stroke="#3a3a3a" stroke-width="0.55"/><circle cx="256.8" cy="239.0" r="2.25" fill="#87cefa" stroke="#3a3a3a" stroke-width="0.55"/><circle cx="261.3" cy="241.3" r="2.25" fill="#87cefa" stroke="#3a3a3a" stroke-width="0.55"/><circle cx="264.6" cy="240.2" r="2.25" fill="#87cefa" stroke="#3a3a3a" stroke-width="0.55"/><circle cx="242.2" cy="243.5" r="2.25" fill="#87cefa" stroke="#3a3a3a" stroke-width="0.55"/><circle cx="245.6" cy="243.5" r="2.25" fill="#87cefa" stroke="#3a3a3a" stroke-width="0.55"/><circle cx="250.1" cy="244.6" r="2.25" fill="#87cefa" stroke="#3a3a3a" stroke-width="0.55"/><circle cx="254.6" cy="244.6" r="2.25" fill="#87cefa" stroke="#3a3a3a" stroke-width="0.55"/><circle cx="259.0" cy="246.9" r="2.25" fill="#87cefa" stroke="#3a3a3a" stroke-width="0.55"/><circle cx="264.6" cy="245.8" r="2.25" fill="#87cefa" stroke="#3a3a3a" stroke-width="0.55"/><circle cx="244.5" cy="248.0" r="2.25" fill="#87cefa" stroke="#3a3a3a" stroke-width="0.55"/><circle cx="251.2" cy="249.1" r="2.25" fill="#87cefa" stroke="#3a3a3a" stroke-width="0.55"/><circle cx="260.2" cy="248.7" r="2.25" fill="#87cefa" stroke="#3a3a3a" stroke-width="0.55"/><circle cx="266.9" cy="251.4" r="2.25" fill="#87cefa" stroke="#3a3a3a" stroke-width="0.55"/><circle cx="241.1" cy="251.4" r="2.25" fill="#87cefa" stroke="#3a3a3a" stroke-width="0.55"/><circle cx="240.0" cy="254.7" r="2.25" fill="#87cefa" stroke="#3a3a3a" stroke-width="0.55"/><circle cx="249.0" cy="255.4" r="2.25" fill="#87cefa" stroke="#3a3a3a" stroke-width="0.55"/><circle cx="254.6" cy="260.3" r="2.25" fill="#87cefa" stroke="#3a3a3a" stroke-width="0.55"/><circle cx="243.4" cy="267.5" r="2.25" fill="#87cefa" stroke="#3a3a3a" stroke-width="0.55"/><circle cx="250.1" cy="271.5" r="2.25" fill="#87cefa" stroke="#3a3a3a" stroke-width="0.55"/><circle cx="277.0" cy="244.6" r="2.25" fill="#87cefa" stroke="#3a3a3a" stroke-width="0.55"/><circle cx="281.5" cy="248.0" r="2.25" fill="#87cefa" stroke="#3a3a3a" stroke-width="0.55"/><circle cx="279.2" cy="241.3" r="2.25" fill="#87cefa" stroke="#3a3a3a" stroke-width="0.55"/><circle cx="282.6" cy="240.2" r="2.25" fill="#87cefa" stroke="#3a3a3a" stroke-width="0.55"/><circle cx="285.9" cy="243.5" r="2.25" fill="#87cefa" stroke="#3a3a3a" stroke-width="0.55"/><circle cx="292.7" cy="241.3" r="2.25" fill="#87cefa" stroke="#3a3a3a" stroke-width="0.55"/><circle cx="298.3" cy="240.2" r="2.25" fill="#87cefa" stroke="#3a3a3a" stroke-width="0.55"/><circle cx="300.5" cy="242.4" r="2.25" fill="#87cefa" stroke="#3a3a3a" stroke-width="0.55"/><circle cx="303.9" cy="243.5" r="2.25" fill="#87cefa" stroke="#3a3a3a" stroke-width="0.55"/><circle cx="309.5" cy="234.6" r="2.25" fill="#87cefa" stroke="#3a3a3a" stroke-width="0.55"/><circle cx="312.8" cy="237.9" r="2.25" fill="#87cefa" stroke="#3a3a3a" stroke-width="0.55"/><circle cx="314.0" cy="241.3" r="2.25" fill="#87cefa" stroke="#3a3a3a" stroke-width="0.55"/><circle cx="309.5" cy="244.6" r="2.25" fill="#87cefa" stroke="#3a3a3a" stroke-width="0.55"/><circle cx="307.2" cy="248.0" r="2.25" fill="#87cefa" stroke="#3a3a3a" stroke-width="0.55"/><circle cx="314.0" cy="248.0" r="2.25" fill="#87cefa" stroke="#3a3a3a" stroke-width="0.55"/><circle cx="292.7" cy="249.1" r="2.25" fill="#87cefa" stroke="#3a3a3a" stroke-width="0.55"/><circle cx="289.3" cy="252.5" r="2.25" fill="#87cefa" stroke="#3a3a3a" stroke-width="0.55"/><circle cx="290.4" cy="255.9" r="2.25" fill="#87cefa" stroke="#3a3a3a" stroke-width="0.55"/><circle cx="287.1" cy="257.0" r="2.25" fill="#87cefa" stroke="#3a3a3a" stroke-width="0.55"/><circle cx="298.3" cy="255.4" r="2.25" fill="#87cefa" stroke="#3a3a3a" stroke-width="0.55"/><circle cx="288.2" cy="260.3" r="2.25" fill="#87cefa" stroke="#3a3a3a" stroke-width="0.55"/><circle cx="290.4" cy="261.5" r="2.25" fill="#87cefa" stroke="#3a3a3a" stroke-width="0.55"/><circle cx="291.5" cy="265.9" r="2.25" fill="#87cefa" stroke="#3a3a3a" stroke-width="0.55"/><circle cx="301.6" cy="261.5" r="2.25" fill="#87cefa" stroke="#3a3a3a" stroke-width="0.55"/><circle cx="311.7" cy="260.3" r="2.25" fill="#87cefa" stroke="#3a3a3a" stroke-width="0.55"/><circle cx="315.1" cy="255.9" r="2.25" fill="#87cefa" stroke="#3a3a3a" stroke-width="0.55"/><circle cx="308.3" cy="252.5" r="2.25" fill="#87cefa" stroke="#3a3a3a" stroke-width="0.55"/><circle cx="314.0" cy="268.2" r="2.25" fill="#87cefa" stroke="#3a3a3a" stroke-width="0.55"/><circle cx="309.5" cy="270.4" r="2.25" fill="#87cefa" stroke="#3a3a3a" stroke-width="0.55"/><circle cx="282.6" cy="271.5" r="2.25" fill="#87cefa" stroke="#3a3a3a" stroke-width="0.55"/><circle cx="283.7" cy="274.9" r="2.25" fill="#87cefa" stroke="#3a3a3a" stroke-width="0.55"/><circle cx="281.5" cy="276.0" r="2.25" fill="#87cefa" stroke="#3a3a3a" stroke-width="0.55"/><circle cx="288.2" cy="277.1" r="2.25" fill="#87cefa" stroke="#3a3a3a" stroke-width="0.55"/><circle cx="284.8" cy="280.5" r="2.25" fill="#87cefa" stroke="#3a3a3a" stroke-width="0.55"/><circle cx="277.0" cy="282.3" r="2.25" fill="#87cefa" stroke="#3a3a3a" stroke-width="0.55"/><circle cx="303.9" cy="274.9" r="2.25" fill="#87cefa" stroke="#3a3a3a" stroke-width="0.55"/><circle cx="296.0" cy="280.5" r="2.25" fill="#87cefa" stroke="#3a3a3a" stroke-width="0.55"/><circle cx="298.3" cy="283.9" r="2.25" fill="#87cefa" stroke="#3a3a3a" stroke-width="0.55"/><circle cx="302.7" cy="285.4" r="2.25" fill="#87cefa" stroke="#3a3a3a" stroke-width="0.55"/><circle cx="311.7" cy="281.6" r="2.25" fill="#87cefa" stroke="#3a3a3a" stroke-width="0.55"/><circle cx="315.1" cy="285.0" r="2.25" fill="#87cefa" stroke="#3a3a3a" stroke-width="0.55"/><circle cx="309.5" cy="287.2" r="2.25" fill="#87cefa" stroke="#3a3a3a" stroke-width="0.55"/><circle cx="314.0" cy="289.5" r="2.25" fill="#87cefa" stroke="#3a3a3a" stroke-width="0.55"/><circle cx="297.1" cy="287.2" r="2.25" fill="#87cefa" stroke="#3a3a3a" stroke-width="0.55"/><circle cx="293.8" cy="289.5" r="2.25" fill="#87cefa" stroke="#3a3a3a" stroke-width="0.55"/><circle cx="289.3" cy="289.5" r="2.25" fill="#87cefa" stroke="#3a3a3a" stroke-width="0.55"/><circle cx="284.8" cy="291.3" r="2.25" fill="#87cefa" stroke="#3a3a3a" stroke-width="0.55"/><circle cx="272.5" cy="287.2" r="2.25" fill="#87cefa" stroke="#3a3a3a" stroke-width="0.55"/><circle cx="268.0" cy="290.6" r="2.25" fill="#87cefa" stroke="#3a3a3a" stroke-width="0.55"/><circle cx="294.9" cy="291.7" r="2.25" fill="#87cefa" stroke="#3a3a3a" stroke-width="0.55"/><circle cx="246.7" cy="296.2" r="2.25" fill="#87cefa" stroke="#3a3a3a" stroke-width="0.55"/><circle cx="309.5" cy="296.2" r="2.25" fill="#87cefa" stroke="#3a3a3a" stroke-width="0.55"/><circle cx="315.1" cy="294.0" r="2.25" fill="#87cefa" stroke="#3a3a3a" stroke-width="0.55"/><circle cx="244.2" cy="285.6" r="2.25" fill="#87cefa" stroke="#3a3a3a" stroke-width="0.55"/><circle cx="247.0" cy="297.1" r="2.25" fill="#87cefa" stroke="#3a3a3a" stroke-width="0.55"/><circle cx="276.4" cy="282.5" r="2.25" fill="#87cefa" stroke="#3a3a3a" stroke-width="0.55"/><circle cx="272.2" cy="286.3" r="2.25" fill="#87cefa" stroke="#3a3a3a" stroke-width="0.55"/><circle cx="284.8" cy="281.7" r="2.25" fill="#87cefa" stroke="#3a3a3a" stroke-width="0.55"/><circle cx="284.8" cy="290.5" r="2.25" fill="#87cefa" stroke="#3a3a3a" stroke-width="0.55"/><circle cx="290.2" cy="289.5" r="2.25" fill="#87cefa" stroke="#3a3a3a" stroke-width="0.55"/><circle cx="294.9" cy="290.1" r="2.25" fill="#87cefa" stroke="#3a3a3a" stroke-width="0.55"/><circle cx="297.4" cy="285.6" r="2.25" fill="#87cefa" stroke="#3a3a3a" stroke-width="0.55"/><circle cx="302.3" cy="285.6" r="2.25" fill="#87cefa" stroke="#3a3a3a" stroke-width="0.55"/><circle cx="300.2" cy="288.4" r="2.25" fill="#87cefa" stroke="#3a3a3a" stroke-width="0.55"/><circle cx="297.7" cy="291.9" r="2.25" fill="#87cefa" stroke="#3a3a3a" stroke-width="0.55"/><circle cx="311.5" cy="282.1" r="2.25" fill="#87cefa" stroke="#3a3a3a" stroke-width="0.55"/><circle cx="310.0" cy="287.0" r="2.25" fill="#87cefa" stroke="#3a3a3a" stroke-width="0.55"/><circle cx="315.0" cy="286.3" r="2.25" fill="#87cefa" stroke="#3a3a3a" stroke-width="0.55"/><circle cx="315.7" cy="295.4" r="2.25" fill="#87cefa" stroke="#3a3a3a" stroke-width="0.55"/><circle cx="308.7" cy="299.6" r="2.25" fill="#87cefa" stroke="#3a3a3a" stroke-width="0.55"/><circle cx="310.8" cy="301.0" r="2.25" fill="#87cefa" stroke="#3a3a3a" stroke-width="0.55"/><circle cx="313.6" cy="305.9" r="2.25" fill="#87cefa" stroke="#3a3a3a" stroke-width="0.55"/><circle cx="303.7" cy="305.9" r="2.25" fill="#87cefa" stroke="#3a3a3a" stroke-width="0.55"/><circle cx="300.2" cy="308.7" r="2.25" fill="#87cefa" stroke="#3a3a3a" stroke-width="0.55"/><circle cx="291.8" cy="308.0" r="2.25" fill="#87cefa" stroke="#3a3a3a" stroke-width="0.55"/><circle cx="293.9" cy="317.8" r="2.25" fill="#87cefa" stroke="#3a3a3a" stroke-width="0.55"/><circle cx="304.4" cy="317.8" r="2.25" fill="#87cefa" stroke="#3a3a3a" stroke-width="0.55"/><circle cx="301.6" cy="322.0" r="2.25" fill="#87cefa" stroke="#3a3a3a" stroke-width="0.55"/><circle cx="293.9" cy="322.7" r="2.25" fill="#87cefa" stroke="#3a3a3a" stroke-width="0.55"/><circle cx="308.7" cy="322.0" r="2.25" fill="#87cefa" stroke="#3a3a3a" stroke-width="0.55"/><circle cx="313.6" cy="319.9" r="2.25" fill="#87cefa" stroke="#3a3a3a" stroke-width="0.55"/><circle cx="284.1" cy="322.0" r="2.25" fill="#87cefa" stroke="#3a3a3a" stroke-width="0.55"/><circle cx="280.6" cy="322.0" r="2.25" fill="#87cefa" stroke="#3a3a3a" stroke-width="0.55"/><circle cx="269.4" cy="321.3" r="2.25" fill="#87cefa" stroke="#3a3a3a" stroke-width="0.55"/><circle cx="273.6" cy="321.3" r="2.25" fill="#87cefa" stroke="#3a3a3a" stroke-width="0.55"/><circle cx="257.5" cy="317.8" r="2.25" fill="#87cefa" stroke="#3a3a3a" stroke-width="0.55"/><circle cx="252.6" cy="317.1" r="2.25" fill="#87cefa" stroke="#3a3a3a" stroke-width="0.55"/><rect x="39.9" y="309.0" width="4.0" height="4.0" fill="#9552c8" stroke="#3a3a3a" stroke-width="0.55"/><rect x="34.4" y="314.4" width="4.0" height="4.0" fill="#9552c8" stroke="#3a3a3a" stroke-width="0.55"/><circle cx="45.1" cy="305.4" r="2.25" fill="#9552c8" stroke="#3a3a3a" stroke-width="0.55"/><rect x="43.9" y="309.4" width="4.0" height="4.0" fill="#9552c8" stroke="#3a3a3a" stroke-width="0.55"/><rect x="36.9" y="316.1" width="4.0" height="4.0" fill="#9552c8" stroke="#3a3a3a" stroke-width="0.55"/><circle cx="33.3" cy="317.8" r="2.25" fill="#9552c8" stroke="#3a3a3a" stroke-width="0.55"/><rect x="39.2" y="311.9" width="4.0" height="4.0" fill="#9552c8" stroke="#3a3a3a" stroke-width="0.55"/><rect x="54.7" y="288.5" width="4.0" height="4.0" fill="#9552c8" stroke="#3a3a3a" stroke-width="0.55"/><circle cx="60.6" cy="293.3" r="2.25" fill="#9552c8" stroke="#3a3a3a" stroke-width="0.55"/><circle cx="66.0" cy="277.1" r="2.25" fill="#9552c8" stroke="#3a3a3a" stroke-width="0.55"/><circle cx="47.8" cy="306.3" r="2.25" fill="#9552c8" stroke="#3a3a3a" stroke-width="0.55"/><circle cx="48.1" cy="303.1" r="2.25" fill="#9552c8" stroke="#3a3a3a" stroke-width="0.55"/><circle cx="50.3" cy="299.3" r="2.25" fill="#9552c8" stroke="#3a3a3a" stroke-width="0.55"/><rect x="54.9" y="297.1" width="4.0" height="4.0" fill="#9552c8" stroke="#3a3a3a" stroke-width="0.55"/><circle cx="60.8" cy="287.1" r="2.25" fill="#9552c8" stroke="#3a3a3a" stroke-width="0.55"/><circle cx="69.8" cy="281.6" r="2.25" fill="#9552c8" stroke="#3a3a3a" stroke-width="0.55"/><rect x="32.8" y="319.6" width="4.0" height="4.0" fill="#9552c8" stroke="#3a3a3a" stroke-width="0.55"/><circle cx="57.2" cy="295.2" r="2.25" fill="#9552c8" stroke="#3a3a3a" stroke-width="0.55"/><circle cx="70.0" cy="278.1" r="2.25" fill="#9552c8" stroke="#3a3a3a" stroke-width="0.55"/><rect x="52.8" y="301.1" width="4.0" height="4.0" fill="#9552c8" stroke="#3a3a3a" stroke-width="0.55"/><circle cx="63.1" cy="281.2" r="2.25" fill="#9552c8" stroke="#3a3a3a" stroke-width="0.55"/><rect x="36.1" y="310.5" width="4.0" height="4.0" fill="#9552c8" stroke="#3a3a3a" stroke-width="0.55"/><circle cx="41.7" cy="317.2" r="2.25" fill="#9552c8" stroke="#3a3a3a" stroke-width="0.55"/><circle cx="54.2" cy="297.3" r="2.25" fill="#9552c8" stroke="#3a3a3a" stroke-width="0.55"/><rect x="69.2" y="272.7" width="4.0" height="4.0" fill="#9552c8" stroke="#3a3a3a" stroke-width="0.55"/><circle cx="53.1" cy="291.2" r="2.25" fill="#9552c8" stroke="#3a3a3a" stroke-width="0.55"/><rect x="61.9" y="282.7" width="4.0" height="4.0" fill="#9552c8" stroke="#3a3a3a" stroke-width="0.55"/><rect x="40.3" y="306.2" width="4.0" height="4.0" fill="#9552c8" stroke="#3a3a3a" stroke-width="0.55"/><circle cx="67.0" cy="283.8" r="2.25" fill="#9552c8" stroke="#3a3a3a" stroke-width="0.55"/><circle cx="48.6" cy="313.0" r="2.25" fill="#9552c8" stroke="#3a3a3a" stroke-width="0.55"/><circle cx="51.1" cy="303.7" r="2.25" fill="#9552c8" stroke="#3a3a3a" stroke-width="0.55"/><rect x="48.5" y="292.0" width="4.0" height="4.0" fill="#9552c8" stroke="#3a3a3a" stroke-width="0.55"/><rect x="59.0" y="287.8" width="4.0" height="4.0" fill="#9552c8" stroke="#3a3a3a" stroke-width="0.55"/><circle cx="49.9" cy="308.4" r="2.25" fill="#9552c8" stroke="#3a3a3a" stroke-width="0.55"/><circle cx="55.1" cy="287.9" r="2.25" fill="#9552c8" stroke="#3a3a3a" stroke-width="0.55"/><circle cx="38.0" cy="321.4" r="2.25" fill="#9552c8" stroke="#3a3a3a" stroke-width="0.55"/><circle cx="45.2" cy="302.1" r="2.25" fill="#9552c8" stroke="#3a3a3a" stroke-width="0.55"/><rect x="58.4" y="282.1" width="4.0" height="4.0" fill="#9552c8" stroke="#3a3a3a" stroke-width="0.55"/><rect x="55.6" y="283.3" width="4.0" height="4.0" fill="#9552c8" stroke="#3a3a3a" stroke-width="0.55"/><circle cx="53.6" cy="306.9" r="2.25" fill="#9552c8" stroke="#3a3a3a" stroke-width="0.55"/><circle cx="65.9" cy="280.6" r="2.25" fill="#9552c8" stroke="#3a3a3a" stroke-width="0.55"/><rect x="42.7" y="313.9" width="4.0" height="4.0" fill="#9552c8" stroke="#3a3a3a" stroke-width="0.55"/><rect x="66.4" y="273.4" width="4.0" height="4.0" fill="#9552c8" stroke="#3a3a3a" stroke-width="0.55"/><circle cx="53.2" cy="300.2" r="2.25" fill="#9552c8" stroke="#3a3a3a" stroke-width="0.55"/><rect x="43.4" y="306.6" width="4.0" height="4.0" fill="#9552c8" stroke="#3a3a3a" stroke-width="0.55"/><rect x="51.5" y="292.1" width="4.0" height="4.0" fill="#9552c8" stroke="#3a3a3a" stroke-width="0.55"/><circle cx="49.0" cy="296.8" r="2.25" fill="#9552c8" stroke="#3a3a3a" stroke-width="0.55"/><rect x="45.3" y="297.7" width="4.0" height="4.0" fill="#9552c8" stroke="#3a3a3a" stroke-width="0.55"/><circle cx="63.8" cy="287.8" r="2.25" fill="#9552c8" stroke="#3a3a3a" stroke-width="0.55"/><rect x="31.0" y="321.9" width="4.0" height="4.0" fill="#9552c8" stroke="#3a3a3a" stroke-width="0.55"/><circle cx="87.0" cy="278.0" r="2.25" fill="#9552c8" stroke="#3a3a3a" stroke-width="0.55"/><circle cx="80.6" cy="283.4" r="2.25" fill="#9552c8" stroke="#3a3a3a" stroke-width="0.55"/><rect x="143.2" y="268.6" width="4.0" height="4.0" fill="#9552c8" stroke="#3a3a3a" stroke-width="0.55"/><circle cx="78.6" cy="276.6" r="2.25" fill="#9552c8" stroke="#3a3a3a" stroke-width="0.55"/><circle cx="112.2" cy="274.3" r="2.25" fill="#9552c8" stroke="#3a3a3a" stroke-width="0.55"/><circle cx="112.2" cy="280.8" r="2.25" fill="#9552c8" stroke="#3a3a3a" stroke-width="0.55"/><rect x="90.8" y="272.6" width="4.0" height="4.0" fill="#9552c8" stroke="#3a3a3a" stroke-width="0.55"/><circle cx="74.4" cy="275.4" r="2.25" fill="#9552c8" stroke="#3a3a3a" stroke-width="0.55"/><circle cx="102.9" cy="282.2" r="2.25" fill="#9552c8" stroke="#3a3a3a" stroke-width="0.55"/><rect x="74.0" y="280.6" width="4.0" height="4.0" fill="#9552c8" stroke="#3a3a3a" stroke-width="0.55"/><circle cx="138.5" cy="276.6" r="2.25" fill="#9552c8" stroke="#3a3a3a" stroke-width="0.55"/><circle cx="73.1" cy="279.8" r="2.25" fill="#9552c8" stroke="#3a3a3a" stroke-width="0.55"/><circle cx="107.0" cy="278.9" r="2.25" fill="#9552c8" stroke="#3a3a3a" stroke-width="0.55"/><circle cx="121.5" cy="276.4" r="2.25" fill="#9552c8" stroke="#3a3a3a" stroke-width="0.55"/><rect x="103.8" y="271.8" width="4.0" height="4.0" fill="#9552c8" stroke="#3a3a3a" stroke-width="0.55"/><circle cx="144.8" cy="275.5" r="2.25" fill="#9552c8" stroke="#3a3a3a" stroke-width="0.55"/><circle cx="148.4" cy="274.1" r="2.25" fill="#9552c8" stroke="#3a3a3a" stroke-width="0.55"/><circle cx="126.6" cy="279.8" r="2.25" fill="#9552c8" stroke="#3a3a3a" stroke-width="0.55"/><circle cx="130.1" cy="274.1" r="2.25" fill="#9552c8" stroke="#3a3a3a" stroke-width="0.55"/><circle cx="133.3" cy="272.7" r="2.25" fill="#9552c8" stroke="#3a3a3a" stroke-width="0.55"/><circle cx="97.1" cy="277.0" r="2.25" fill="#9552c8" stroke="#3a3a3a" stroke-width="0.55"/><rect x="101.2" y="274.0" width="4.0" height="4.0" fill="#9552c8" stroke="#3a3a3a" stroke-width="0.55"/><circle cx="141.8" cy="278.1" r="2.25" fill="#9552c8" stroke="#3a3a3a" stroke-width="0.55"/><circle cx="117.3" cy="276.4" r="2.25" fill="#9552c8" stroke="#3a3a3a" stroke-width="0.55"/><rect x="118.5" y="278.5" width="4.0" height="4.0" fill="#9552c8" stroke="#3a3a3a" stroke-width="0.55"/><rect x="98.9" y="276.6" width="4.0" height="4.0" fill="#9552c8" stroke="#3a3a3a" stroke-width="0.55"/><circle cx="95.2" cy="282.3" r="2.25" fill="#9552c8" stroke="#3a3a3a" stroke-width="0.55"/><rect x="81.9" y="281.3" width="4.0" height="4.0" fill="#9552c8" stroke="#3a3a3a" stroke-width="0.55"/><circle cx="81.5" cy="279.7" r="2.25" fill="#9552c8" stroke="#3a3a3a" stroke-width="0.55"/><circle cx="149.0" cy="270.7" r="2.25" fill="#9552c8" stroke="#3a3a3a" stroke-width="0.55"/><circle cx="84.3" cy="274.8" r="2.25" fill="#9552c8" stroke="#3a3a3a" stroke-width="0.55"/><circle cx="125.9" cy="272.8" r="2.25" fill="#9552c8" stroke="#3a3a3a" stroke-width="0.55"/><rect x="134.4" y="270.5" width="4.0" height="4.0" fill="#9552c8" stroke="#3a3a3a" stroke-width="0.55"/><circle cx="92.1" cy="283.0" r="2.25" fill="#9552c8" stroke="#3a3a3a" stroke-width="0.55"/><circle cx="135.3" cy="278.4" r="2.25" fill="#9552c8" stroke="#3a3a3a" stroke-width="0.55"/><rect x="96.1" y="279.5" width="4.0" height="4.0" fill="#9552c8" stroke="#3a3a3a" stroke-width="0.55"/><circle cx="72.2" cy="273.2" r="2.25" fill="#9552c8" stroke="#3a3a3a" stroke-width="0.55"/><circle cx="128.6" cy="276.9" r="2.25" fill="#9552c8" stroke="#3a3a3a" stroke-width="0.55"/><circle cx="110.3" cy="277.0" r="2.25" fill="#9552c8" stroke="#3a3a3a" stroke-width="0.55"/><rect x="88.0" y="276.5" width="4.0" height="4.0" fill="#9552c8" stroke="#3a3a3a" stroke-width="0.55"/><circle cx="78.3" cy="273.2" r="2.25" fill="#9552c8" stroke="#3a3a3a" stroke-width="0.55"/><circle cx="93.4" cy="278.3" r="2.25" fill="#9552c8" stroke="#3a3a3a" stroke-width="0.55"/><circle cx="141.3" cy="274.7" r="2.25" fill="#9552c8" stroke="#3a3a3a" stroke-width="0.55"/><rect x="129.8" y="276.7" width="4.0" height="4.0" fill="#9552c8" stroke="#3a3a3a" stroke-width="0.55"/><circle cx="108.6" cy="281.7" r="2.25" fill="#9552c8" stroke="#3a3a3a" stroke-width="0.55"/><rect x="86.1" y="281.6" width="4.0" height="4.0" fill="#9552c8" stroke="#3a3a3a" stroke-width="0.55"/><rect x="139.0" y="269.1" width="4.0" height="4.0" fill="#9552c8" stroke="#3a3a3a" stroke-width="0.55"/><circle cx="117.2" cy="279.8" r="2.25" fill="#9552c8" stroke="#3a3a3a" stroke-width="0.55"/><circle cx="151.0" cy="276.6" r="2.25" fill="#9552c8" stroke="#3a3a3a" stroke-width="0.55"/><circle cx="78.2" cy="280.3" r="2.25" fill="#9552c8" stroke="#3a3a3a" stroke-width="0.55"/><rect x="176.4" y="261.4" width="4.0" height="4.0" fill="#9552c8" stroke="#3a3a3a" stroke-width="0.55"/><rect x="167.6" y="261.9" width="4.0" height="4.0" fill="#9552c8" stroke="#3a3a3a" stroke-width="0.55"/><circle cx="186.0" cy="263.2" r="2.25" fill="#9552c8" stroke="#3a3a3a" stroke-width="0.55"/><circle cx="197.1" cy="258.5" r="2.25" fill="#9552c8" stroke="#3a3a3a" stroke-width="0.55"/><circle cx="192.0" cy="264.8" r="2.25" fill="#9552c8" stroke="#3a3a3a" stroke-width="0.55"/><rect x="150.9" y="266.2" width="4.0" height="4.0" fill="#9552c8" stroke="#3a3a3a" stroke-width="0.55"/><circle cx="166.0" cy="268.5" r="2.25" fill="#9552c8" stroke="#3a3a3a" stroke-width="0.55"/><circle cx="165.0" cy="264.0" r="2.25" fill="#9552c8" stroke="#3a3a3a" stroke-width="0.55"/><rect x="172.1" y="260.1" width="4.0" height="4.0" fill="#9552c8" stroke="#3a3a3a" stroke-width="0.55"/><circle cx="155.8" cy="272.2" r="2.25" fill="#9552c8" stroke="#3a3a3a" stroke-width="0.55"/><circle cx="181.6" cy="260.1" r="2.25" fill="#9552c8" stroke="#3a3a3a" stroke-width="0.55"/><circle cx="253.9" cy="194.4" r="2.25" fill="#f08080" stroke="#3a3a3a" stroke-width="0.55"/><circle cx="243.4" cy="211.6" r="2.25" fill="#f08080" stroke="#3a3a3a" stroke-width="0.55"/><circle cx="306.8" cy="203.8" r="2.25" fill="#f08080" stroke="#3a3a3a" stroke-width="0.55"/><circle cx="67.0" cy="224.7" r="2.25" fill="#f08080" stroke="#3a3a3a" stroke-width="0.55"/><circle cx="66.3" cy="235.2" r="2.25" fill="#f08080" stroke="#3a3a3a" stroke-width="0.55"/><circle cx="75.4" cy="230.7" r="2.25" fill="#f08080" stroke="#3a3a3a" stroke-width="0.55"/><circle cx="81.0" cy="218.1" r="2.25" fill="#f08080" stroke="#3a3a3a" stroke-width="0.55"/><circle cx="118.8" cy="220.7" r="2.25" fill="#f08080" stroke="#3a3a3a" stroke-width="0.55"/><circle cx="131.0" cy="239.8" r="2.25" fill="#f08080" stroke="#3a3a3a" stroke-width="0.55"/><circle cx="158.5" cy="244.5" r="2.25" fill="#f08080" stroke="#3a3a3a" stroke-width="0.55"/><circle cx="212.0" cy="230.6" r="2.25" fill="#f08080" stroke="#3a3a3a" stroke-width="0.55"/><circle cx="223.9" cy="235.1" r="2.25" fill="#f08080" stroke="#3a3a3a" stroke-width="0.55"/><circle cx="180.6" cy="244.5" r="2.25" fill="#f08080" stroke="#3a3a3a" stroke-width="0.55"/><circle cx="159.0" cy="244.5" r="2.25" fill="#f08080" stroke="#3a3a3a" stroke-width="0.55"/><circle cx="178.6" cy="250.6" r="2.25" fill="#f08080" stroke="#3a3a3a" stroke-width="0.55"/><rect x="82.5" y="224.1" width="4.0" height="4.0" fill="#f08080" stroke="#3a3a3a" stroke-width="0.55"/><rect x="95.1" y="225.5" width="4.0" height="4.0" fill="#f08080" stroke="#3a3a3a" stroke-width="0.55"/><rect x="95.8" y="228.3" width="4.0" height="4.0" fill="#f08080" stroke="#3a3a3a" stroke-width="0.55"/><rect x="91.6" y="229.0" width="4.0" height="4.0" fill="#f08080" stroke="#3a3a3a" stroke-width="0.55"/><rect x="86.7" y="231.1" width="4.0" height="4.0" fill="#f08080" stroke="#3a3a3a" stroke-width="0.55"/><rect x="83.2" y="230.4" width="4.0" height="4.0" fill="#f08080" stroke="#3a3a3a" stroke-width="0.55"/><rect x="79.0" y="230.4" width="4.0" height="4.0" fill="#f08080" stroke="#3a3a3a" stroke-width="0.55"/><rect x="76.2" y="233.9" width="4.0" height="4.0" fill="#f08080" stroke="#3a3a3a" stroke-width="0.55"/><rect x="80.4" y="234.6" width="4.0" height="4.0" fill="#f08080" stroke="#3a3a3a" stroke-width="0.55"/><rect x="84.6" y="235.3" width="4.0" height="4.0" fill="#f08080" stroke="#3a3a3a" stroke-width="0.55"/><rect x="88.8" y="233.9" width="4.0" height="4.0" fill="#f08080" stroke="#3a3a3a" stroke-width="0.55"/><rect x="76.2" y="237.4" width="4.0" height="4.0" fill="#f08080" stroke="#3a3a3a" stroke-width="0.55"/><rect x="81.1" y="238.1" width="4.0" height="4.0" fill="#f08080" stroke="#3a3a3a" stroke-width="0.55"/><rect x="74.8" y="240.9" width="4.0" height="4.0" fill="#f08080" stroke="#3a3a3a" stroke-width="0.55"/><rect x="79.0" y="241.6" width="4.0" height="4.0" fill="#f08080" stroke="#3a3a3a" stroke-width="0.55"/><rect x="85.3" y="240.9" width="4.0" height="4.0" fill="#f08080" stroke="#3a3a3a" stroke-width="0.55"/><rect x="85.3" y="247.2" width="4.0" height="4.0" fill="#f08080" stroke="#3a3a3a" stroke-width="0.55"/><rect x="76.2" y="245.8" width="4.0" height="4.0" fill="#f08080" stroke="#3a3a3a" stroke-width="0.55"/><rect x="75.5" y="250.0" width="4.0" height="4.0" fill="#f08080" stroke="#3a3a3a" stroke-width="0.55"/><rect x="72.0" y="245.8" width="4.0" height="4.0" fill="#f08080" stroke="#3a3a3a" stroke-width="0.55"/><rect x="65.7" y="250.0" width="4.0" height="4.0" fill="#f08080" stroke="#3a3a3a" stroke-width="0.55"/><rect x="58.7" y="253.5" width="4.0" height="4.0" fill="#f08080" stroke="#3a3a3a" stroke-width="0.55"/><rect x="104.2" y="232.5" width="4.0" height="4.0" fill="#f08080" stroke="#3a3a3a" stroke-width="0.55"/><rect x="107.0" y="233.2" width="4.0" height="4.0" fill="#f08080" stroke="#3a3a3a" stroke-width="0.55"/><rect x="91.6" y="226.2" width="4.0" height="4.0" fill="#f08080" stroke="#3a3a3a" stroke-width="0.55"/><rect x="53.1" y="245.0" width="4.0" height="4.0" fill="#f08080" stroke="#3a3a3a" stroke-width="0.55"/><rect x="48.2" y="256.9" width="4.0" height="4.0" fill="#f08080" stroke="#3a3a3a" stroke-width="0.55"/><rect x="57.3" y="252.7" width="4.0" height="4.0" fill="#f08080" stroke="#3a3a3a" stroke-width="0.55"/><rect x="52.4" y="264.6" width="4.0" height="4.0" fill="#f08080" stroke="#3a3a3a" stroke-width="0.55"/><rect x="48.9" y="268.1" width="4.0" height="4.0" fill="#f08080" stroke="#3a3a3a" stroke-width="0.55"/><rect x="60.1" y="268.1" width="4.0" height="4.0" fill="#f08080" stroke="#3a3a3a" stroke-width="0.55"/><rect x="63.6" y="249.2" width="4.0" height="4.0" fill="#f08080" stroke="#3a3a3a" stroke-width="0.55"/><rect x="65.0" y="245.7" width="4.0" height="4.0" fill="#f08080" stroke="#3a3a3a" stroke-width="0.55"/><rect x="67.1" y="262.5" width="4.0" height="4.0" fill="#f08080" stroke="#3a3a3a" stroke-width="0.55"/><rect x="69.2" y="259.7" width="4.0" height="4.0" fill="#f08080" stroke="#3a3a3a" stroke-width="0.55"/><rect x="72.0" y="242.9" width="4.0" height="4.0" fill="#f08080" stroke="#3a3a3a" stroke-width="0.55"/><rect x="74.8" y="240.8" width="4.0" height="4.0" fill="#f08080" stroke="#3a3a3a" stroke-width="0.55"/><rect x="77.6" y="242.2" width="4.0" height="4.0" fill="#f08080" stroke="#3a3a3a" stroke-width="0.55"/><rect x="72.0" y="239.4" width="4.0" height="4.0" fill="#f08080" stroke="#3a3a3a" stroke-width="0.55"/><rect x="70.6" y="275.8" width="4.0" height="4.0" fill="#f08080" stroke="#3a3a3a" stroke-width="0.55"/><rect x="55.2" y="278.6" width="4.0" height="4.0" fill="#f08080" stroke="#3a3a3a" stroke-width="0.55"/><rect x="48.2" y="280.7" width="4.0" height="4.0" fill="#f08080" stroke="#3a3a3a" stroke-width="0.55"/><rect x="93.9" y="226.0" width="4.0" height="4.0" fill="#f08080" stroke="#3a3a3a" stroke-width="0.55"/><rect x="97.2" y="229.4" width="4.0" height="4.0" fill="#f08080" stroke="#3a3a3a" stroke-width="0.55"/><rect x="104.0" y="224.9" width="4.0" height="4.0" fill="#f08080" stroke="#3a3a3a" stroke-width="0.55"/><rect x="108.4" y="222.6" width="4.0" height="4.0" fill="#f08080" stroke="#3a3a3a" stroke-width="0.55"/><circle cx="117.3" cy="195.4" r="2.25" fill="#249a24" stroke="#3a3a3a" stroke-width="0.55"/><circle cx="102.3" cy="204.6" r="2.25" fill="#249a24" stroke="#3a3a3a" stroke-width="0.55"/><circle cx="116.4" cy="201.4" r="2.25" fill="#249a24" stroke="#3a3a3a" stroke-width="0.55"/><circle cx="117.9" cy="207.3" r="2.25" fill="#249a24" stroke="#3a3a3a" stroke-width="0.55"/><circle cx="134.6" cy="201.4" r="2.25" fill="#249a24" stroke="#3a3a3a" stroke-width="0.55"/><circle cx="154.6" cy="205.8" r="2.25" fill="#249a24" stroke="#3a3a3a" stroke-width="0.55"/><circle cx="163.7" cy="208.6" r="2.25" fill="#249a24" stroke="#3a3a3a" stroke-width="0.55"/><circle cx="238.5" cy="145.0" r="2.25" fill="#249a24" stroke="#3a3a3a" stroke-width="0.55"/><circle cx="235.7" cy="168.0" r="2.25" fill="#249a24" stroke="#3a3a3a" stroke-width="0.55"/><circle cx="228.9" cy="173.6" r="2.25" fill="#249a24" stroke="#3a3a3a" stroke-width="0.55"/><circle cx="226.1" cy="179.4" r="2.25" fill="#249a24" stroke="#3a3a3a" stroke-width="0.55"/><circle cx="215.5" cy="181.0" r="2.25" fill="#249a24" stroke="#3a3a3a" stroke-width="0.55"/><circle cx="217.4" cy="184.5" r="2.25" fill="#249a24" stroke="#3a3a3a" stroke-width="0.55"/><circle cx="234.0" cy="183.0" r="2.25" fill="#249a24" stroke="#3a3a3a" stroke-width="0.55"/><circle cx="236.3" cy="178.0" r="2.25" fill="#249a24" stroke="#3a3a3a" stroke-width="0.55"/><circle cx="203.0" cy="193.8" r="2.25" fill="#249a24" stroke="#3a3a3a" stroke-width="0.55"/><circle cx="213.0" cy="193.3" r="2.25" fill="#249a24" stroke="#3a3a3a" stroke-width="0.55"/><circle cx="221.3" cy="192.2" r="2.25" fill="#249a24" stroke="#3a3a3a" stroke-width="0.55"/><circle cx="228.5" cy="192.7" r="2.25" fill="#249a24" stroke="#3a3a3a" stroke-width="0.55"/><circle cx="233.2" cy="190.8" r="2.25" fill="#249a24" stroke="#3a3a3a" stroke-width="0.55"/><circle cx="207.0" cy="198.0" r="2.25" fill="#249a24" stroke="#3a3a3a" stroke-width="0.55"/><circle cx="232.5" cy="197.0" r="2.25" fill="#249a24" stroke="#3a3a3a" stroke-width="0.55"/><circle cx="253.3" cy="118.2" r="2.25" fill="#249a24" stroke="#3a3a3a" stroke-width="0.55"/><circle cx="268.5" cy="115.9" r="2.25" fill="#249a24" stroke="#3a3a3a" stroke-width="0.55"/><circle cx="243.8" cy="129.8" r="2.25" fill="#249a24" stroke="#3a3a3a" stroke-width="0.55"/><circle cx="256.4" cy="140.3" r="2.25" fill="#249a24" stroke="#3a3a3a" stroke-width="0.55"/><circle cx="243.6" cy="143.9" r="2.25" fill="#249a24" stroke="#3a3a3a" stroke-width="0.55"/><circle cx="248.5" cy="149.5" r="2.25" fill="#249a24" stroke="#3a3a3a" stroke-width="0.55"/><circle cx="244.2" cy="169.3" r="2.25" fill="#249a24" stroke="#3a3a3a" stroke-width="0.55"/><circle cx="254.0" cy="164.5" r="2.25" fill="#249a24" stroke="#3a3a3a" stroke-width="0.55"/><circle cx="242.3" cy="174.2" r="2.25" fill="#249a24" stroke="#3a3a3a" stroke-width="0.55"/><circle cx="123.1" cy="209.6" r="2.25" fill="#249a24" stroke="#3a3a3a" stroke-width="0.55"/><circle cx="126.0" cy="211.8" r="2.25" fill="#249a24" stroke="#3a3a3a" stroke-width="0.55"/><circle cx="131.0" cy="215.2" r="2.25" fill="#249a24" stroke="#3a3a3a" stroke-width="0.55"/><circle cx="102.9" cy="212.9" r="2.25" fill="#249a24" stroke="#3a3a3a" stroke-width="0.55"/><circle cx="108.1" cy="212.9" r="2.25" fill="#249a24" stroke="#3a3a3a" stroke-width="0.55"/><circle cx="92.2" cy="223.0" r="2.25" fill="#249a24" stroke="#3a3a3a" stroke-width="0.55"/><circle cx="100.7" cy="223.0" r="2.25" fill="#249a24" stroke="#3a3a3a" stroke-width="0.55"/><circle cx="114.1" cy="225.3" r="2.25" fill="#249a24" stroke="#3a3a3a" stroke-width="0.55"/><circle cx="124.9" cy="223.0" r="2.25" fill="#249a24" stroke="#3a3a3a" stroke-width="0.55"/><circle cx="133.2" cy="229.7" r="2.25" fill="#249a24" stroke="#3a3a3a" stroke-width="0.55"/><circle cx="141.0" cy="215.6" r="2.25" fill="#249a24" stroke="#3a3a3a" stroke-width="0.55"/><circle cx="146.6" cy="212.9" r="2.25" fill="#249a24" stroke="#3a3a3a" stroke-width="0.55"/><circle cx="146.6" cy="217.0" r="2.25" fill="#249a24" stroke="#3a3a3a" stroke-width="0.55"/><circle cx="152.2" cy="212.9" r="2.25" fill="#249a24" stroke="#3a3a3a" stroke-width="0.55"/><circle cx="163.7" cy="205.3" r="2.25" fill="#249a24" stroke="#3a3a3a" stroke-width="0.55"/><circle cx="156.3" cy="214.0" r="2.25" fill="#249a24" stroke="#3a3a3a" stroke-width="0.55"/><circle cx="161.2" cy="214.7" r="2.25" fill="#249a24" stroke="#3a3a3a" stroke-width="0.55"/><circle cx="152.9" cy="223.0" r="2.25" fill="#249a24" stroke="#3a3a3a" stroke-width="0.55"/><circle cx="152.2" cy="226.8" r="2.25" fill="#249a24" stroke="#3a3a3a" stroke-width="0.55"/><circle cx="146.6" cy="229.0" r="2.25" fill="#249a24" stroke="#3a3a3a" stroke-width="0.55"/><circle cx="149.3" cy="234.2" r="2.25" fill="#249a24" stroke="#3a3a3a" stroke-width="0.55"/><circle cx="153.3" cy="234.2" r="2.25" fill="#249a24" stroke="#3a3a3a" stroke-width="0.55"/><circle cx="162.3" cy="218.5" r="2.25" fill="#249a24" stroke="#3a3a3a" stroke-width="0.55"/><circle cx="163.0" cy="229.0" r="2.25" fill="#249a24" stroke="#3a3a3a" stroke-width="0.55"/><circle cx="164.5" cy="217.6" r="2.25" fill="#249a24" stroke="#3a3a3a" stroke-width="0.55"/><circle cx="167.8" cy="216.5" r="2.25" fill="#249a24" stroke="#3a3a3a" stroke-width="0.55"/><circle cx="172.3" cy="213.1" r="2.25" fill="#249a24" stroke="#3a3a3a" stroke-width="0.55"/><circle cx="173.4" cy="216.5" r="2.25" fill="#249a24" stroke="#3a3a3a" stroke-width="0.55"/><circle cx="166.7" cy="221.0" r="2.25" fill="#249a24" stroke="#3a3a3a" stroke-width="0.55"/><circle cx="172.3" cy="223.2" r="2.25" fill="#249a24" stroke="#3a3a3a" stroke-width="0.55"/><circle cx="179.0" cy="223.2" r="2.25" fill="#249a24" stroke="#3a3a3a" stroke-width="0.55"/><circle cx="181.3" cy="215.8" r="2.25" fill="#249a24" stroke="#3a3a3a" stroke-width="0.55"/><circle cx="180.2" cy="228.8" r="2.25" fill="#249a24" stroke="#3a3a3a" stroke-width="0.55"/><circle cx="188.7" cy="222.1" r="2.25" fill="#249a24" stroke="#3a3a3a" stroke-width="0.55"/><circle cx="173.4" cy="233.7" r="2.25" fill="#249a24" stroke="#3a3a3a" stroke-width="0.55"/><circle cx="177.9" cy="236.6" r="2.25" fill="#249a24" stroke="#3a3a3a" stroke-width="0.55"/><circle cx="192.5" cy="232.1" r="2.25" fill="#249a24" stroke="#3a3a3a" stroke-width="0.55"/><circle cx="184.0" cy="204.1" r="2.25" fill="#249a24" stroke="#3a3a3a" stroke-width="0.55"/><circle cx="198.5" cy="205.9" r="2.25" fill="#249a24" stroke="#3a3a3a" stroke-width="0.55"/><circle cx="202.6" cy="192.9" r="2.25" fill="#249a24" stroke="#3a3a3a" stroke-width="0.55"/><circle cx="208.2" cy="204.1" r="2.25" fill="#249a24" stroke="#3a3a3a" stroke-width="0.55"/><circle cx="211.5" cy="210.9" r="2.25" fill="#249a24" stroke="#3a3a3a" stroke-width="0.55"/><circle cx="214.5" cy="198.5" r="2.25" fill="#249a24" stroke="#3a3a3a" stroke-width="0.55"/><circle cx="217.1" cy="201.9" r="2.25" fill="#249a24" stroke="#3a3a3a" stroke-width="0.55"/><circle cx="84.0" cy="216.0" r="2.25" fill="#249a24" stroke="#3a3a3a" stroke-width="0.55"/><circle cx="83.3" cy="222.3" r="2.25" fill="#249a24" stroke="#3a3a3a" stroke-width="0.55"/><circle cx="74.5" cy="239.6" r="2.25" fill="#249a24" stroke="#3a3a3a" stroke-width="0.55"/><circle cx="67.8" cy="247.8" r="2.25" fill="#249a24" stroke="#3a3a3a" stroke-width="0.55"/><circle cx="71.7" cy="247.0" r="2.25" fill="#249a24" stroke="#3a3a3a" stroke-width="0.55"/><circle cx="61.3" cy="259.0" r="2.25" fill="#249a24" stroke="#3a3a3a" stroke-width="0.55"/><circle cx="65.3" cy="266.0" r="2.25" fill="#249a24" stroke="#3a3a3a" stroke-width="0.55"/><circle cx="92.0" cy="223.0" r="2.25" fill="#249a24" stroke="#3a3a3a" stroke-width="0.55"/><circle cx="58.6" cy="270.0" r="2.25" fill="#249a24" stroke="#3a3a3a" stroke-width="0.55"/><circle cx="55.7" cy="270.6" r="2.25" fill="#249a24" stroke="#3a3a3a" stroke-width="0.55"/><circle cx="46.9" cy="288.6" r="2.25" fill="#249a24" stroke="#3a3a3a" stroke-width="0.55"/></g>
</g>
<polyline points="46.9,280.8 54.1,282.4 56.7,274.9 59.6,267.0 62.5,259.2 65.5,251.4 68.4,241.6 70.4,233.7 72.4,227.8 76.3,224.9 79.0,220.8 84.0,216.5 88.0,213.4 93.6,209.5 99.2,205.6 104.0,202.3 108.2,200.0 112.0,197.5 117.5,195.0 125.0,190.6 147.0,179.0 160.0,174.5 181.3,161.7 189.6,149.5 195.6,141.0" fill="none" stroke="#22cc22" stroke-width="2" stroke-linejoin="round" stroke-linecap="butt"/>
<polyline points="32.0,323.0 35.0,321.5 40.0,319.0 45.4,314.9 50.8,306.9 54.2,299.1 56.3,292.8 58.4,286.5 60.5,281.0 62.6,276.0 66.4,268.9 70.2,260.0 73.3,255.0 77.3,249.4 85.1,243.5 93.0,238.6 100.6,234.5 110.0,229.6 120.0,225.0 140.0,221.0 150.0,218.3 160.9,215.6 170.0,210.1 179.1,205.5 189.2,197.3 198.3,187.3 206.5,181.9 217.4,174.6 225.0,169.5 235.5,162.5 240.0,157.0 247.5,146.0 251.0,141.0" fill="none" stroke="#dd1111" stroke-width="2" stroke-linejoin="round" stroke-linecap="butt"/>
<polyline points="32.0,324.5 34.7,323.7 42.8,320.3 48.1,314.9 53.5,306.9 57.6,300.0 60.0,294.0 62.6,287.8 65.0,282.5 67.7,278.3 72.7,272.7 80.3,267.0 90.0,261.9 99.2,258.5 111.2,254.1 122.4,250.2 133.6,246.8 147.1,242.9 158.3,241.5 169.0,238.0 180.2,234.1 185.8,229.1 192.5,224.6 200.3,220.1 209.3,216.8 220.0,212.8 237.2,206.9 255.1,196.8 266.9,191.5 281.0,187.0" fill="none" stroke="#800080" stroke-width="2" stroke-linejoin="round" stroke-linecap="butt"/>
<polyline points="40.0,326.0 45.0,322.7 48.0,320.2 51.4,316.3 54.0,310.0 56.5,304.5 59.1,300.5 61.5,297.0 64.7,292.1 68.9,285.8 73.8,280.2 79.4,277.4 84.0,275.2 90.0,272.7 93.6,271.8 105.0,268.5 127.4,260.6 147.6,255.0 161.2,253.3 172.4,251.5 180.0,250.2 188.0,246.5 196.8,242.6 205.0,239.6 213.6,237.8 230.4,237.2 247.2,239.3 260.0,245.2 270.7,249.4 276.0,253.0 280.8,258.4" fill="none" stroke="#00bfff" stroke-width="2" stroke-linejoin="round" stroke-linecap="butt"/>
<polyline points="39.3,325.0 44.0,322.0 48.4,319.8 50.0,318.4 57.0,313.5 64.0,307.9 71.0,303.7 80.0,301.3 86.7,300.0 90.0,299.5 101.1,297.3 112.3,296.1 120.0,295.4 127.9,295.0 132.3,295.6 140.1,297.8 151.3,300.0 162.4,301.7 170.0,303.8 181.2,307.9 192.4,311.1 203.6,313.4 214.8,315.1 226.0,316.3 237.2,317.1 250.0,317.8 268.0,318.5 280.6,319.0" fill="none" stroke="#ffd700" stroke-width="2" stroke-linejoin="round" stroke-linecap="butt"/>
</g>
<rect x="32.9" y="94.2" width="284.9" height="233.6" fill="none" stroke="#444" stroke-width="1.3"/>
<line x1="32.9" y1="327.8" x2="32.9" y2="325.6" stroke="#444" stroke-width="0.9"/>
<text x="32.9" y="339.3" text-anchor="middle" font-family="'DejaVu Sans', 'Liberation Sans', sans-serif" font-size="11.2" fill="#000">0.5</text>
<line x1="94.8" y1="327.8" x2="94.8" y2="325.6" stroke="#444" stroke-width="0.9"/>
<text x="94.8" y="339.3" text-anchor="middle" font-family="'DejaVu Sans', 'Liberation Sans', sans-serif" font-size="11.2" fill="#000">1.0</text>
<line x1="156.8" y1="327.8" x2="156.8" y2="325.6" stroke="#444" stroke-width="0.9"/>
<text x="156.8" y="339.3" text-anchor="middle" font-family="'DejaVu Sans', 'Liberation Sans', sans-serif" font-size="11.2" fill="#000">1.5</text>
<line x1="218.7" y1="327.8" x2="218.7" y2="325.6" stroke="#444" stroke-width="0.9"/>
<text x="218.7" y="339.3" text-anchor="middle" font-family="'DejaVu Sans', 'Liberation Sans', sans-serif" font-size="11.2" fill="#000">2.0</text>
<line x1="280.6" y1="327.8" x2="280.6" y2="325.6" stroke="#444" stroke-width="0.9"/>
<text x="280.6" y="339.3" text-anchor="middle" font-family="'DejaVu Sans', 'Liberation Sans', sans-serif" font-size="11.2" fill="#000">2.5</text>
<line x1="32.9" y1="325.7" x2="35.1" y2="325.7" stroke="#444" stroke-width="0.9"/>
<text x="30.3" y="330.2" text-anchor="end" font-family="'DejaVu Sans', 'Liberation Sans', sans-serif" font-size="10.9" fill="#000">0</text>
<line x1="32.9" y1="283.6" x2="35.1" y2="283.6" stroke="#444" stroke-width="0.9"/>
<text x="30.3" y="288.1" text-anchor="end" font-family="'DejaVu Sans', 'Liberation Sans', sans-serif" font-size="10.9" fill="#000">10</text>
<line x1="32.9" y1="241.5" x2="35.1" y2="241.5" stroke="#444" stroke-width="0.9"/>
<text x="30.3" y="246.0" text-anchor="end" font-family="'DejaVu Sans', 'Liberation Sans', sans-serif" font-size="10.9" fill="#000">20</text>
<line x1="32.9" y1="199.4" x2="35.1" y2="199.4" stroke="#444" stroke-width="0.9"/>
<text x="30.3" y="203.9" text-anchor="end" font-family="'DejaVu Sans', 'Liberation Sans', sans-serif" font-size="10.9" fill="#000">30</text>
<line x1="32.9" y1="157.4" x2="35.1" y2="157.4" stroke="#444" stroke-width="0.9"/>
<text x="30.3" y="161.9" text-anchor="end" font-family="'DejaVu Sans', 'Liberation Sans', sans-serif" font-size="10.9" fill="#000">40</text>
<line x1="32.9" y1="115.4" x2="35.1" y2="115.4" stroke="#444" stroke-width="0.9"/>
<text x="30.3" y="119.9" text-anchor="end" font-family="'DejaVu Sans', 'Liberation Sans', sans-serif" font-size="10.9" fill="#000">50</text>
<line x1="68.5" y1="94.2" x2="68.5" y2="92.2" stroke="#444" stroke-width="0.9"/>
<text x="68.5" y="87.7" text-anchor="middle" font-family="'DejaVu Sans', 'Liberation Sans', sans-serif" font-size="11.2" fill="#000">G0</text>
<line x1="93.5" y1="94.2" x2="93.5" y2="92.2" stroke="#444" stroke-width="0.9"/>
<text x="93.5" y="87.7" text-anchor="middle" font-family="'DejaVu Sans', 'Liberation Sans', sans-serif" font-size="11.2" fill="#000">K0</text>
<line x1="199.1" y1="94.2" x2="199.1" y2="92.2" stroke="#444" stroke-width="0.9"/>
<text x="199.1" y="87.7" text-anchor="middle" font-family="'DejaVu Sans', 'Liberation Sans', sans-serif" font-size="11.2" fill="#000">M0</text>
<line x1="281.3" y1="94.2" x2="281.3" y2="92.2" stroke="#444" stroke-width="0.9"/>
<text x="281.3" y="87.7" text-anchor="middle" font-family="'DejaVu Sans', 'Liberation Sans', sans-serif" font-size="11.2" fill="#000">M3</text>
<text x="45.1" y="115.0" font-family="'DejaVu Sans', 'Liberation Sans', sans-serif" font-size="14.9" fill="#000">(a) Am19 model</text>
<text x="119.5" y="353.2" font-family="'DejaVu Sans', 'Liberation Sans', sans-serif" font-size="12.5" font-style="normal" fill="#000">(</text>
<text x="122.9" y="353.2" font-family="'DejaVu Sans', 'Liberation Sans', sans-serif" font-size="12.5" font-style="italic" fill="#000">G</text>
<text x="133.0" y="355.3" font-family="'DejaVu Sans', 'Liberation Sans', sans-serif" font-size="9.2" font-style="italic" fill="#000">BP</text>
<text x="148.0" y="353.2" font-family="'DejaVu Sans', 'Liberation Sans', sans-serif" font-size="12.5" font-style="normal" fill="#000">−</text>
<text x="159.8" y="353.2" font-family="'DejaVu Sans', 'Liberation Sans', sans-serif" font-size="12.5" font-style="italic" fill="#000">G</text>
<text x="169.3" y="355.3" font-family="'DejaVu Sans', 'Liberation Sans', sans-serif" font-size="9.2" font-style="italic" fill="#000">RP</text>
<text x="181.6" y="353.2" font-family="'DejaVu Sans', 'Liberation Sans', sans-serif" font-size="12.5" font-style="normal" fill="#000">)</text>
<text x="185.8" y="355.3" font-family="'DejaVu Sans', 'Liberation Sans', sans-serif" font-size="9.2" font-style="normal" fill="#000">0</text>
<text x="196.6" y="353.2" font-family="'Liberation Serif', serif" font-size="14.2" font-style="normal" fill="#000">(mag)</text>
<text transform="translate(10.2,211.0) rotate(-90)" text-anchor="middle" font-family="'DejaVu Sans', 'Liberation Sans', sans-serif" font-size="12.5" fill="#000"><tspan font-style="italic">P</tspan><tspan font-style="italic" font-size="8.8" dy="2.5">rot</tspan><tspan dy="-2.5"> (day)</tspan></text>
<g clip-path="url(#c1)"><g transform="matrix(0.99824,0,0,1,399.158,0)">
<use href="#scat"/>
</g>
<polyline points="442.9,280.0 446.4,270.0 450.6,258.8 454.1,245.0 459.0,232.8 463.2,223.0 465.3,219.5 473.0,211.8 481.4,205.5 489.8,200.6 495.0,198.5 503.7,195.7 512.0,193.9 521.8,192.0 539.4,190.6 555.1,191.6 568.8,193.1 582.5,197.5 590.0,198.4 601.8,199.2 613.5,198.4 622.4,196.9 627.3,192.5 632.2,189.0 636.5,185.5" fill="none" stroke="#22cc22" stroke-width="2" stroke-linejoin="round" stroke-linecap="butt"/>
<polyline points="442.1,312.2 444.8,301.0 447.6,290.5 448.5,285.0 450.2,278.0 452.0,271.4 454.0,265.5 456.2,260.2 461.8,250.4 466.0,244.8 473.0,239.8 481.4,234.9 489.8,232.1 495.0,230.7 502.0,230.0 512.0,229.7 529.6,229.2 549.2,229.8 568.8,230.4 580.0,230.3 588.4,229.2 602.2,227.3 612.0,222.0 620.0,216.5 622.5,214.5 625.3,210.0 632.9,195.0 636.0,190.0" fill="none" stroke="#dd1111" stroke-width="2" stroke-linejoin="round" stroke-linecap="butt"/>
<polyline points="442.1,312.5 444.8,303.0 447.7,296.0 451.0,290.3 454.4,286.0 458.5,282.6 463.4,280.3 469.5,278.0 476.8,276.5 492.5,274.7 512.0,273.6 519.6,272.5 539.2,270.5 558.8,267.5 574.5,264.6 586.3,258.7 600.0,250.9 621.2,235.2 627.1,226.4 635.9,210.7" fill="none" stroke="#800080" stroke-width="2" stroke-linejoin="round" stroke-linecap="butt"/>
<polyline points="442.1,313.0 446.0,305.5 449.9,299.4 453.3,295.0 456.7,291.5 461.5,288.4 467.9,285.9 481.3,283.7 499.2,282.0 505.0,282.3 519.6,280.3 538.7,278.3 558.8,274.5 572.3,270.9 592.5,263.5 606.0,254.0 622.8,237.2 629.0,230.0 635.6,223.1" fill="none" stroke="#00bfff" stroke-width="2" stroke-linejoin="round" stroke-linecap="butt"/>
<polyline points="442.1,314.0 454.4,311.0 467.9,308.0 483.6,303.8 500.0,299.0 519.6,295.0 539.2,292.1 558.8,289.1 578.4,286.2 592.6,284.3 605.2,284.6 621.6,286.5 636.1,284.6" fill="none" stroke="#ffd700" stroke-width="2" stroke-linejoin="round" stroke-linecap="butt"/>
</g>
<rect x="432.0" y="94.2" width="284.4" height="233.6" fill="none" stroke="#444" stroke-width="1.3"/>
<line x1="432.0" y1="327.8" x2="432.0" y2="325.6" stroke="#444" stroke-width="0.9"/>
<text x="432.0" y="339.3" text-anchor="middle" font-family="'DejaVu Sans', 'Liberation Sans', sans-serif" font-size="11.2" fill="#000">0.5</text>
<line x1="493.8" y1="327.8" x2="493.8" y2="325.6" stroke="#444" stroke-width="0.9"/>
<text x="493.8" y="339.3" text-anchor="middle" font-family="'DejaVu Sans', 'Liberation Sans', sans-serif" font-size="11.2" fill="#000">1.0</text>
<line x1="555.7" y1="327.8" x2="555.7" y2="325.6" stroke="#444" stroke-width="0.9"/>
<text x="555.7" y="339.3" text-anchor="middle" font-family="'DejaVu Sans', 'Liberation Sans', sans-serif" font-size="11.2" fill="#000">1.5</text>
<line x1="617.5" y1="327.8" x2="617.5" y2="325.6" stroke="#444" stroke-width="0.9"/>
<text x="617.5" y="339.3" text-anchor="middle" font-family="'DejaVu Sans', 'Liberation Sans', sans-serif" font-size="11.2" fill="#000">2.0</text>
<line x1="679.3" y1="327.8" x2="679.3" y2="325.6" stroke="#444" stroke-width="0.9"/>
<text x="679.3" y="339.3" text-anchor="middle" font-family="'DejaVu Sans', 'Liberation Sans', sans-serif" font-size="11.2" fill="#000">2.5</text>
<line x1="432.0" y1="325.7" x2="434.2" y2="325.7" stroke="#444" stroke-width="0.9"/>
<text x="429.4" y="330.2" text-anchor="end" font-family="'DejaVu Sans', 'Liberation Sans', sans-serif" font-size="10.9" fill="#000">0</text>
<line x1="432.0" y1="283.6" x2="434.2" y2="283.6" stroke="#444" stroke-width="0.9"/>
<text x="429.4" y="288.1" text-anchor="end" font-family="'DejaVu Sans', 'Liberation Sans', sans-serif" font-size="10.9" fill="#000">10</text>
<line x1="432.0" y1="241.5" x2="434.2" y2="241.5" stroke="#444" stroke-width="0.9"/>
<text x="429.4" y="246.0" text-anchor="end" font-family="'DejaVu Sans', 'Liberation Sans', sans-serif" font-size="10.9" fill="#000">20</text>
<line x1="432.0" y1="199.4" x2="434.2" y2="199.4" stroke="#444" stroke-width="0.9"/>
<text x="429.4" y="203.9" text-anchor="end" font-family="'DejaVu Sans', 'Liberation Sans', sans-serif" font-size="10.9" fill="#000">30</text>
<line x1="432.0" y1="157.4" x2="434.2" y2="157.4" stroke="#444" stroke-width="0.9"/>
<text x="429.4" y="161.9" text-anchor="end" font-family="'DejaVu Sans', 'Liberation Sans', sans-serif" font-size="10.9" fill="#000">40</text>
<line x1="432.0" y1="115.4" x2="434.2" y2="115.4" stroke="#444" stroke-width="0.9"/>
<text x="429.4" y="119.9" text-anchor="end" font-family="'DejaVu Sans', 'Liberation Sans', sans-serif" font-size="10.9" fill="#000">50</text>
<line x1="467.5" y1="94.2" x2="467.5" y2="92.2" stroke="#444" stroke-width="0.9"/>
<text x="467.5" y="87.7" text-anchor="middle" font-family="'DejaVu Sans', 'Liberation Sans', sans-serif" font-size="11.2" fill="#000">G0</text>
<line x1="492.5" y1="94.2" x2="492.5" y2="92.2" stroke="#444" stroke-width="0.9"/>
<text x="492.5" y="87.7" text-anchor="middle" font-family="'DejaVu Sans', 'Liberation Sans', sans-serif" font-size="11.2" fill="#000">K0</text>
<line x1="597.9" y1="94.2" x2="597.9" y2="92.2" stroke="#444" stroke-width="0.9"/>
<text x="597.9" y="87.7" text-anchor="middle" font-family="'DejaVu Sans', 'Liberation Sans', sans-serif" font-size="11.2" fill="#000">M0</text>
<line x1="679.9" y1="94.2" x2="679.9" y2="92.2" stroke="#444" stroke-width="0.9"/>
<text x="679.9" y="87.7" text-anchor="middle" font-family="'DejaVu Sans', 'Liberation Sans', sans-serif" font-size="11.2" fill="#000">M3</text>
<text x="444.2" y="115.0" font-family="'DejaVu Sans', 'Liberation Sans', sans-serif" font-size="14.9" fill="#000">(b) SL20 model</text>
<text x="518.6" y="353.2" font-family="'DejaVu Sans', 'Liberation Sans', sans-serif" font-size="12.5" font-style="normal" fill="#000">(</text>
<text x="522.0" y="353.2" font-family="'DejaVu Sans', 'Liberation Sans', sans-serif" font-size="12.5" font-style="italic" fill="#000">G</text>
<text x="532.1" y="355.3" font-family="'DejaVu Sans', 'Liberation Sans', sans-serif" font-size="9.2" font-style="italic" fill="#000">BP</text>
<text x="547.1" y="353.2" font-family="'DejaVu Sans', 'Liberation Sans', sans-serif" font-size="12.5" font-style="normal" fill="#000">−</text>
<text x="558.9" y="353.2" font-family="'DejaVu Sans', 'Liberation Sans', sans-serif" font-size="12.5" font-style="italic" fill="#000">G</text>
<text x="568.4" y="355.3" font-family="'DejaVu Sans', 'Liberation Sans', sans-serif" font-size="9.2" font-style="italic" fill="#000">RP</text>
<text x="580.7" y="353.2" font-family="'DejaVu Sans', 'Liberation Sans', sans-serif" font-size="12.5" font-style="normal" fill="#000">)</text>
<text x="584.9" y="355.3" font-family="'DejaVu Sans', 'Liberation Sans', sans-serif" font-size="9.2" font-style="normal" fill="#000">0</text>
<text x="595.7" y="353.2" font-family="'Liberation Serif', serif" font-size="14.2" font-style="normal" fill="#000">(mag)</text>
<text transform="translate(409.3,211.0) rotate(-90)" text-anchor="middle" font-family="'DejaVu Sans', 'Liberation Sans', sans-serif" font-size="12.5" fill="#000"><tspan font-style="italic">P</tspan><tspan font-style="italic" font-size="8.8" dy="2.5">rot</tspan><tspan dy="-2.5"> (day)</tspan></text>
</svg>
</body></html>
